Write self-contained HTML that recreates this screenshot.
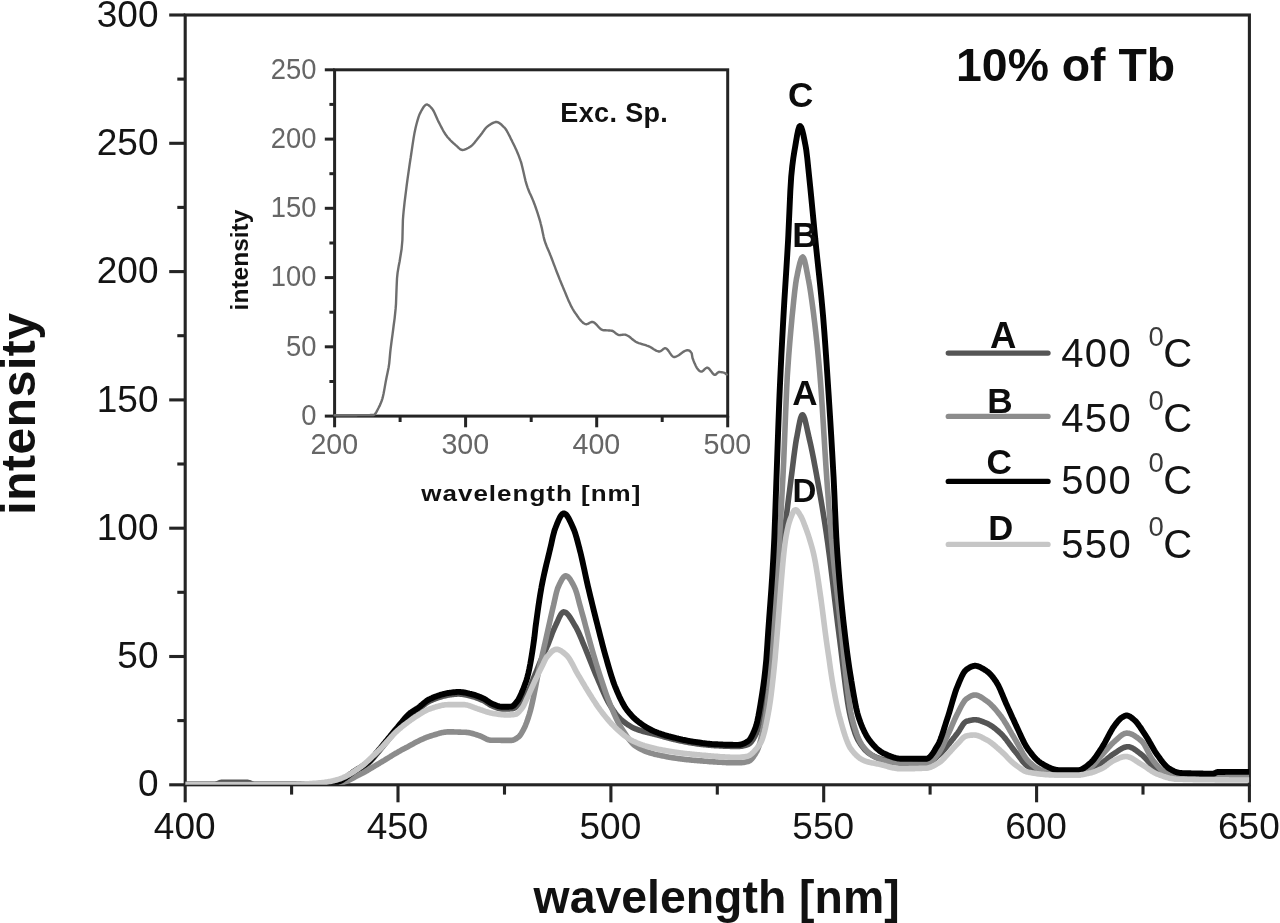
<!DOCTYPE html>
<html lang="en">
<head>
<meta charset="utf-8">
<title>Emission spectra - 10% of Tb</title>
<style>
html,body{margin:0;padding:0;background:#fff;}
body{width:1280px;height:923px;overflow:hidden;font-family:"Liberation Sans",Arial,sans-serif;}
svg{display:block;filter:blur(0.5px);}
</style>
</head>
<body>
<svg width="1280" height="923" viewBox="0 0 1280 923" font-family="'Liberation Sans', Arial, sans-serif">
<rect width="1280" height="923" fill="#ffffff"/>
<g id="inset">
<rect x="334.6" y="69.8" width="393.1" height="346.3" fill="none" stroke="#242424" stroke-width="3.0"/>
<line x1="324.8" y1="416.1" x2="334.6" y2="416.1" stroke="#242424" stroke-width="3.0" stroke-linecap="butt"/>
<line x1="329.4" y1="381.5" x2="334.6" y2="381.5" stroke="#242424" stroke-width="3.0" stroke-linecap="butt"/>
<line x1="324.8" y1="346.8" x2="334.6" y2="346.8" stroke="#242424" stroke-width="3.0" stroke-linecap="butt"/>
<line x1="329.4" y1="312.2" x2="334.6" y2="312.2" stroke="#242424" stroke-width="3.0" stroke-linecap="butt"/>
<line x1="324.8" y1="277.6" x2="334.6" y2="277.6" stroke="#242424" stroke-width="3.0" stroke-linecap="butt"/>
<line x1="329.4" y1="243.0" x2="334.6" y2="243.0" stroke="#242424" stroke-width="3.0" stroke-linecap="butt"/>
<line x1="324.8" y1="208.3" x2="334.6" y2="208.3" stroke="#242424" stroke-width="3.0" stroke-linecap="butt"/>
<line x1="329.4" y1="173.7" x2="334.6" y2="173.7" stroke="#242424" stroke-width="3.0" stroke-linecap="butt"/>
<line x1="324.8" y1="139.1" x2="334.6" y2="139.1" stroke="#242424" stroke-width="3.0" stroke-linecap="butt"/>
<line x1="329.4" y1="104.4" x2="334.6" y2="104.4" stroke="#242424" stroke-width="3.0" stroke-linecap="butt"/>
<line x1="324.8" y1="69.8" x2="334.6" y2="69.8" stroke="#242424" stroke-width="3.0" stroke-linecap="butt"/>
<line x1="334.6" y1="416.1" x2="334.6" y2="427.3" stroke="#242424" stroke-width="3.0" stroke-linecap="butt"/>
<line x1="400.1" y1="416.1" x2="400.1" y2="422.0" stroke="#242424" stroke-width="3.0" stroke-linecap="butt"/>
<line x1="465.6" y1="416.1" x2="465.6" y2="427.3" stroke="#242424" stroke-width="3.0" stroke-linecap="butt"/>
<line x1="531.2" y1="416.1" x2="531.2" y2="422.0" stroke="#242424" stroke-width="3.0" stroke-linecap="butt"/>
<line x1="596.7" y1="416.1" x2="596.7" y2="427.3" stroke="#242424" stroke-width="3.0" stroke-linecap="butt"/>
<line x1="662.2" y1="416.1" x2="662.2" y2="422.0" stroke="#242424" stroke-width="3.0" stroke-linecap="butt"/>
<line x1="727.7" y1="416.1" x2="727.7" y2="427.3" stroke="#242424" stroke-width="3.0" stroke-linecap="butt"/>
<text transform="translate(316.4,424.8) scale(0.97,1.075)" font-size="28.2" fill="#666666" text-anchor="end">0</text>
<text transform="translate(316.4,355.5) scale(0.97,1.075)" font-size="28.2" fill="#666666" text-anchor="end">50</text>
<text transform="translate(316.4,286.3) scale(0.97,1.075)" font-size="28.2" fill="#666666" text-anchor="end">100</text>
<text transform="translate(316.4,217.0) scale(0.97,1.075)" font-size="28.2" fill="#666666" text-anchor="end">150</text>
<text transform="translate(316.4,147.8) scale(0.97,1.075)" font-size="28.2" fill="#666666" text-anchor="end">200</text>
<text transform="translate(316.4,78.5) scale(0.97,1.075)" font-size="28.2" fill="#666666" text-anchor="end">250</text>
<text transform="translate(334.3,454.1) scale(1.0,1.03)" font-size="28.6" fill="#666666" text-anchor="middle">200</text>
<text transform="translate(465.3,454.1) scale(1.0,1.03)" font-size="28.6" fill="#666666" text-anchor="middle">300</text>
<text transform="translate(596.4,454.1) scale(1.0,1.03)" font-size="28.6" fill="#666666" text-anchor="middle">400</text>
<text transform="translate(727.4,454.1) scale(1.0,1.03)" font-size="28.6" fill="#666666" text-anchor="middle">500</text>
<text transform="translate(248,260) rotate(-90)" font-size="24.5" font-weight="bold" fill="#111" text-anchor="middle">intensity</text>
<text transform="translate(531.3,500.6) scale(1.15,1)" font-size="22.6" font-weight="bold" letter-spacing="0.87" fill="#111" text-anchor="middle">wavelength [nm]</text>
<text x="560.3" y="122" font-size="27" letter-spacing="0.36" font-weight="bold" fill="#111">Exc. Sp.</text>
<path d="M334.6,415.2 L335.6,415.2 L336.6,415.2 L337.6,415.2 L338.6,415.2 L339.6,415.2 L340.6,415.2 L341.6,415.2 L342.6,415.2 L343.6,415.2 L344.6,415.2 L345.6,415.2 L346.6,415.2 L347.6,415.2 L348.6,415.2 L349.6,415.2 L350.6,415.2 L351.6,415.2 L352.6,415.2 L353.6,415.2 L354.6,415.2 L355.6,415.2 L356.6,415.2 L357.6,415.1 L358.6,415.1 L359.6,415.1 L360.6,415.1 L361.6,415.1 L362.6,415.1 L363.6,415.1 L364.6,415.1 L365.6,415.1 L366.6,415.1 L367.6,415.1 L368.6,415.1 L369.6,415.1 L370.6,415.0 L371.6,415.0 L372.6,415.0 L373.6,415.0 L373.6,415.0 L374.6,414.5 L375.6,413.3 L376.6,411.6 L377.6,409.7 L378.5,408.0 L378.6,407.8 L379.6,405.9 L380.6,403.6 L381.6,401.0 L382.4,398.6 L382.6,397.9 L383.6,393.5 L384.6,388.1 L385.6,382.4 L386.3,378.7 L386.6,377.2 L387.6,372.6 L388.6,367.5 L389.2,363.6 L389.6,359.4 L390.2,352.6 L390.6,348.9 L391.6,341.2 L392.6,333.9 L393.1,330.0 L393.6,326.0 L394.6,318.6 L395.6,308.9 L396.0,303.8 L396.6,287.2 L397.0,278.5 L397.6,272.6 L398.6,266.6 L399.6,261.5 L400.0,259.0 L400.6,255.3 L401.6,249.0 L402.4,240.0 L402.6,231.9 L402.9,220.0 L403.2,216.0 L403.6,211.5 L404.6,202.2 L405.6,194.1 L405.8,192.6 L406.6,186.2 L407.6,178.7 L408.6,171.6 L409.6,164.7 L410.6,158.0 L410.7,157.5 L411.6,151.3 L412.6,144.6 L413.6,138.1 L414.6,132.4 L415.5,128.2 L415.6,127.7 L416.6,123.7 L417.6,120.1 L418.6,116.9 L419.6,114.2 L420.4,112.6 L420.6,112.2 L421.6,110.3 L422.6,108.6 L423.6,107.0 L424.6,105.8 L425.6,104.9 L426.6,104.5 L426.8,104.5 L427.6,104.7 L428.6,105.2 L429.6,106.0 L430.6,107.0 L431.6,108.2 L432.1,108.7 L432.6,109.4 L433.6,111.0 L434.6,113.0 L435.6,115.2 L436.6,117.5 L437.6,119.8 L438.6,121.9 L438.9,122.4 L439.6,123.8 L440.6,125.7 L441.6,127.6 L442.6,129.5 L443.6,131.3 L444.6,133.0 L445.6,134.5 L446.6,135.9 L446.7,136.0 L447.6,137.2 L448.6,138.3 L449.6,139.4 L450.6,140.5 L451.6,141.5 L452.6,142.4 L453.6,143.3 L454.6,144.2 L455.6,145.1 L456.5,145.8 L456.6,145.9 L457.6,146.8 L458.6,147.8 L459.6,148.7 L460.6,149.4 L461.6,149.9 L462.3,150.0 L462.6,150.0 L463.6,149.9 L464.6,149.6 L465.6,149.2 L466.6,148.8 L467.6,148.2 L468.6,147.7 L469.6,147.1 L470.1,146.8 L470.6,146.5 L471.6,145.7 L472.6,144.8 L473.6,143.7 L474.6,142.6 L475.6,141.3 L476.6,140.1 L477.6,138.8 L478.6,137.5 L479.6,136.3 L479.9,136.0 L480.6,135.1 L481.6,133.8 L482.6,132.3 L483.6,130.9 L484.6,129.6 L485.6,128.3 L486.6,127.2 L487.6,126.3 L487.7,126.3 L488.6,125.6 L489.6,124.9 L490.6,124.2 L491.6,123.6 L492.6,123.1 L493.6,122.6 L494.6,122.3 L495.6,122.0 L496.4,122.0 L496.6,122.0 L497.6,122.2 L498.6,122.6 L499.6,123.2 L500.6,124.0 L501.6,124.8 L502.6,125.8 L503.6,126.8 L504.2,127.3 L504.6,127.8 L505.6,129.0 L506.6,130.5 L507.6,132.3 L508.6,134.2 L509.6,136.1 L510.6,138.2 L511.6,140.2 L512.0,140.9 L512.6,142.2 L513.6,144.2 L514.6,146.3 L515.6,148.4 L516.6,150.6 L517.6,153.0 L518.6,155.4 L519.6,158.1 L520.6,160.9 L520.8,161.4 L521.6,164.2 L522.6,168.2 L523.6,172.6 L524.6,177.0 L525.6,181.1 L526.6,184.6 L526.7,184.8 L527.6,187.6 L528.6,190.2 L529.6,192.7 L530.7,195.0 L531.7,197.2 L532.7,199.6 L533.7,202.0 L534.5,204.3 L534.7,204.7 L535.7,207.5 L536.7,210.4 L537.7,213.4 L538.7,216.6 L539.7,219.9 L540.7,223.5 L540.8,224.0 L541.7,227.6 L542.7,232.5 L543.7,237.1 L544.4,240.0 L544.7,240.8 L545.7,243.8 L546.7,246.4 L547.7,248.7 L548.7,251.0 L549.7,253.4 L550.1,254.5 L550.7,255.9 L551.7,258.5 L552.7,261.1 L553.7,263.8 L554.7,266.4 L555.7,269.1 L556.7,271.7 L557.7,274.3 L558.7,276.8 L559.7,279.4 L560.7,281.8 L561.7,284.2 L561.9,284.8 L562.7,286.6 L563.7,289.0 L564.7,291.4 L565.7,293.8 L566.7,296.2 L567.7,298.6 L568.7,300.9 L569.7,303.1 L570.7,305.2 L571.7,307.2 L572.7,309.0 L573.7,310.7 L574.6,312.1 L574.7,312.2 L575.7,313.6 L576.7,315.0 L577.7,316.5 L578.7,317.9 L579.7,319.2 L580.7,320.4 L581.7,321.5 L582.7,322.5 L583.7,323.3 L584.7,323.8 L585.7,324.1 L586.3,324.2 L586.7,324.2 L587.7,323.9 L588.7,323.4 L589.7,322.8 L590.7,322.3 L591.7,321.9 L592.1,321.9 L592.7,322.0 L593.7,322.3 L594.7,323.0 L595.7,323.9 L596.7,324.9 L597.7,326.0 L598.7,327.1 L599.7,328.1 L600.7,329.0 L601.7,329.7 L602.7,330.1 L602.9,330.1 L603.7,330.2 L604.7,330.3 L605.7,330.3 L606.7,330.4 L607.7,330.4 L608.7,330.5 L609.7,330.5 L610.7,330.6 L611.6,330.7 L611.7,330.7 L612.7,331.0 L613.7,331.6 L614.7,332.4 L615.7,333.2 L616.7,333.9 L617.7,334.6 L618.7,335.0 L619.4,335.1 L619.7,335.1 L620.7,335.0 L621.7,334.9 L622.7,334.7 L623.7,334.6 L624.3,334.6 L624.7,334.6 L625.7,334.8 L626.7,335.2 L627.7,335.7 L628.7,336.3 L629.7,337.0 L630.7,337.8 L631.7,338.7 L632.7,339.5 L633.7,340.3 L634.7,341.0 L635.7,341.7 L636.7,342.3 L637.0,342.4 L637.7,342.7 L638.7,343.1 L639.7,343.4 L640.7,343.7 L641.7,344.1 L642.7,344.3 L643.7,344.6 L644.7,344.9 L645.7,345.2 L646.7,345.6 L647.7,345.9 L648.7,346.3 L648.7,346.3 L649.7,346.7 L650.7,347.3 L651.7,347.9 L652.7,348.5 L653.7,349.2 L654.7,349.8 L655.7,350.4 L656.7,350.9 L657.7,351.2 L658.7,351.5 L659.4,351.5 L659.7,351.5 L660.7,351.1 L661.7,350.4 L662.7,349.6 L663.7,348.8 L664.7,348.3 L665.3,348.2 L665.7,348.3 L666.7,348.8 L667.7,349.8 L668.7,351.2 L669.7,352.7 L670.7,354.1 L671.7,355.5 L672.7,356.5 L673.7,357.0 L674.0,357.0 L674.7,357.0 L675.7,356.7 L676.7,356.3 L677.7,355.8 L678.7,355.2 L679.7,354.5 L680.7,353.7 L681.7,353.0 L682.7,352.3 L683.7,351.6 L684.7,351.0 L685.7,350.6 L686.7,350.3 L687.7,350.2 L687.7,350.2 L688.7,350.4 L689.7,350.9 L690.7,351.9 L691.6,353.1 L691.7,353.3 L692.5,358.0 L692.7,358.5 L693.7,361.2 L694.7,363.6 L695.7,365.7 L696.7,367.6 L697.7,369.1 L698.7,370.3 L699.7,371.1 L700.7,371.5 L701.3,371.6 L701.7,371.6 L702.7,371.0 L703.7,370.2 L704.7,369.2 L705.7,368.3 L706.7,367.8 L707.2,367.7 L707.7,367.8 L708.7,368.4 L709.7,369.4 L710.7,370.7 L711.7,372.1 L712.7,373.4 L713.7,374.4 L714.7,374.9 L715.0,374.9 L715.7,374.7 L716.7,373.7 L717.7,372.7 L718.7,372.0 L718.9,372.0 L719.7,372.0 L720.7,372.1 L721.7,372.2 L722.7,372.4 L723.7,372.6 L723.7,372.6 L724.7,373.0 L725.7,373.7 L726.7,374.5" fill="none" stroke="#6e6e6e" stroke-width="2.4" stroke-linejoin="round" stroke-linecap="round"/>
</g>
<g id="main-axes">
<rect x="185.2" y="15.0" width="1064.2" height="769.8" fill="none" stroke="#242424" stroke-width="3.1"/>
<line x1="169.2" y1="784.8" x2="185.2" y2="784.8" stroke="#242424" stroke-width="3.1" stroke-linecap="butt"/>
<line x1="177.3" y1="720.6" x2="185.2" y2="720.6" stroke="#242424" stroke-width="3.1" stroke-linecap="butt"/>
<line x1="169.2" y1="656.5" x2="185.2" y2="656.5" stroke="#242424" stroke-width="3.1" stroke-linecap="butt"/>
<line x1="177.3" y1="592.3" x2="185.2" y2="592.3" stroke="#242424" stroke-width="3.1" stroke-linecap="butt"/>
<line x1="169.2" y1="528.2" x2="185.2" y2="528.2" stroke="#242424" stroke-width="3.1" stroke-linecap="butt"/>
<line x1="177.3" y1="464.0" x2="185.2" y2="464.0" stroke="#242424" stroke-width="3.1" stroke-linecap="butt"/>
<line x1="169.2" y1="399.9" x2="185.2" y2="399.9" stroke="#242424" stroke-width="3.1" stroke-linecap="butt"/>
<line x1="177.3" y1="335.7" x2="185.2" y2="335.7" stroke="#242424" stroke-width="3.1" stroke-linecap="butt"/>
<line x1="169.2" y1="271.6" x2="185.2" y2="271.6" stroke="#242424" stroke-width="3.1" stroke-linecap="butt"/>
<line x1="177.3" y1="207.4" x2="185.2" y2="207.4" stroke="#242424" stroke-width="3.1" stroke-linecap="butt"/>
<line x1="169.2" y1="143.3" x2="185.2" y2="143.3" stroke="#242424" stroke-width="3.1" stroke-linecap="butt"/>
<line x1="177.3" y1="79.1" x2="185.2" y2="79.1" stroke="#242424" stroke-width="3.1" stroke-linecap="butt"/>
<line x1="169.2" y1="15.0" x2="185.2" y2="15.0" stroke="#242424" stroke-width="3.1" stroke-linecap="butt"/>
<line x1="185.2" y1="784.8" x2="185.2" y2="802.3" stroke="#242424" stroke-width="3.1" stroke-linecap="butt"/>
<line x1="291.6" y1="784.8" x2="291.6" y2="794.6" stroke="#242424" stroke-width="3.1" stroke-linecap="butt"/>
<line x1="398.0" y1="784.8" x2="398.0" y2="802.3" stroke="#242424" stroke-width="3.1" stroke-linecap="butt"/>
<line x1="504.5" y1="784.8" x2="504.5" y2="794.6" stroke="#242424" stroke-width="3.1" stroke-linecap="butt"/>
<line x1="610.9" y1="784.8" x2="610.9" y2="802.3" stroke="#242424" stroke-width="3.1" stroke-linecap="butt"/>
<line x1="717.3" y1="784.8" x2="717.3" y2="794.6" stroke="#242424" stroke-width="3.1" stroke-linecap="butt"/>
<line x1="823.7" y1="784.8" x2="823.7" y2="802.3" stroke="#242424" stroke-width="3.1" stroke-linecap="butt"/>
<line x1="930.1" y1="784.8" x2="930.1" y2="794.6" stroke="#242424" stroke-width="3.1" stroke-linecap="butt"/>
<line x1="1036.6" y1="784.8" x2="1036.6" y2="802.3" stroke="#242424" stroke-width="3.1" stroke-linecap="butt"/>
<line x1="1143.0" y1="784.8" x2="1143.0" y2="794.6" stroke="#242424" stroke-width="3.1" stroke-linecap="butt"/>
<line x1="1249.4" y1="784.8" x2="1249.4" y2="802.3" stroke="#242424" stroke-width="3.1" stroke-linecap="butt"/>
<text x="158.5" y="796.4" font-size="37" fill="#141414" text-anchor="end">0</text>
<text x="158.5" y="668.1" font-size="37" fill="#141414" text-anchor="end">50</text>
<text x="158.5" y="539.8" font-size="37" fill="#141414" text-anchor="end">100</text>
<text x="158.5" y="411.5" font-size="37" fill="#141414" text-anchor="end">150</text>
<text x="158.5" y="283.2" font-size="37" fill="#141414" text-anchor="end">200</text>
<text x="158.5" y="154.9" font-size="37" fill="#141414" text-anchor="end">250</text>
<text x="158.5" y="26.6" font-size="37" fill="#141414" text-anchor="end">300</text>
<text x="184.7" y="838.8" font-size="37" fill="#141414" text-anchor="middle">400</text>
<text x="397.5" y="838.8" font-size="37" fill="#141414" text-anchor="middle">450</text>
<text x="610.4" y="838.8" font-size="37" fill="#141414" text-anchor="middle">500</text>
<text x="823.2" y="838.8" font-size="37" fill="#141414" text-anchor="middle">550</text>
<text x="1036.1" y="838.8" font-size="37" fill="#141414" text-anchor="middle">600</text>
<text x="1248.9" y="838.8" font-size="37" fill="#141414" text-anchor="middle">650</text>
<text transform="translate(35.2,413.6) rotate(-90)" font-size="48" letter-spacing="0.55" font-weight="bold" fill="#111" text-anchor="middle">intensity</text>
<text x="716.6" y="912.8" font-size="46.4" font-weight="bold" fill="#111" text-anchor="middle">wavelength [nm]</text>
</g>
<defs><clipPath id="frameclip"><rect x="185.2" y="15.0" width="1064.2" height="769.8"/></clipPath></defs>
<g id="curves" fill="none" stroke-linejoin="round" stroke-linecap="butt" clip-path="url(#frameclip)">
<path d="M185.2,784.6 L186.2,784.6 L187.2,784.6 L188.2,784.6 L189.2,784.6 L190.2,784.6 L191.2,784.6 L192.2,784.6 L193.2,784.6 L194.2,784.6 L195.2,784.6 L196.2,784.6 L197.2,784.6 L198.2,784.6 L199.2,784.6 L200.2,784.6 L201.2,784.6 L202.2,784.6 L203.2,784.6 L204.2,784.6 L205.2,784.6 L206.2,784.6 L207.2,784.6 L208.2,784.6 L209.2,784.6 L210.2,784.6 L211.2,784.6 L212.2,784.6 L213.2,784.6 L214.0,784.6 L214.2,784.6 L215.2,784.5 L216.2,784.2 L217.2,783.8 L218.2,783.4 L219.2,782.9 L220.2,782.6 L221.2,782.4 L222.0,782.3 L222.2,782.3 L223.2,782.3 L224.2,782.3 L225.2,782.3 L226.2,782.3 L227.2,782.3 L228.2,782.3 L229.2,782.3 L230.2,782.3 L231.2,782.3 L232.2,782.3 L233.2,782.3 L234.2,782.3 L235.2,782.3 L236.2,782.3 L237.2,782.3 L238.2,782.3 L239.2,782.3 L240.2,782.3 L241.2,782.3 L242.2,782.3 L243.2,782.3 L244.2,782.3 L245.2,782.3 L246.2,782.3 L247.0,782.3 L247.2,782.3 L248.2,782.5 L249.2,782.7 L250.2,783.1 L251.2,783.6 L252.3,784.0 L253.3,784.3 L254.3,784.5 L255.0,784.6 L255.3,784.6 L256.3,784.6 L257.3,784.6 L258.3,784.6 L259.3,784.6 L260.3,784.6 L261.3,784.6 L262.3,784.6 L263.3,784.6 L264.3,784.6 L265.3,784.6 L266.3,784.6 L267.3,784.6 L268.3,784.6 L269.3,784.6 L270.3,784.6 L271.3,784.6 L272.3,784.6 L273.3,784.6 L274.3,784.6 L275.3,784.6 L276.3,784.6 L277.3,784.6 L278.3,784.6 L279.3,784.6 L280.3,784.6 L281.3,784.6 L282.3,784.6 L283.3,784.6 L284.3,784.6 L285.3,784.6 L286.3,784.6 L287.3,784.6 L288.3,784.6 L289.3,784.6 L290.3,784.6 L291.3,784.6 L292.3,784.6 L293.3,784.6 L294.3,784.6 L295.3,784.6 L296.3,784.6 L297.3,784.6 L298.3,784.6 L299.3,784.6 L300.3,784.6 L301.3,784.6 L302.3,784.6 L303.3,784.6 L304.3,784.6 L305.3,784.6 L306.3,784.6 L307.3,784.6 L308.3,784.6 L309.3,784.6 L310.0,784.6 L310.3,784.6 L311.3,784.6 L312.3,784.6 L313.3,784.6 L314.3,784.6 L315.3,784.5 L316.3,784.5 L317.3,784.5 L318.3,784.4 L319.3,784.4 L320.3,784.3 L321.3,784.3 L322.3,784.2 L323.3,784.1 L324.3,784.1 L325.3,784.0 L326.3,783.9 L327.3,783.8 L328.3,783.8 L329.3,783.7 L330.3,783.6 L331.3,783.5 L332.3,783.3 L333.3,783.2 L334.3,783.1 L335.3,783.0 L336.3,782.9 L337.3,782.7 L338.3,782.6 L339.0,782.5 L339.3,782.4 L340.3,782.2 L341.3,781.9 L342.3,781.4 L343.3,780.9 L344.3,780.2 L345.3,779.6 L346.3,778.8 L347.3,778.1 L348.3,777.3 L349.3,776.5 L350.3,775.7 L351.3,774.9 L352.3,774.2 L353.3,773.5 L354.0,773.0 L354.3,772.8 L355.3,772.1 L356.3,771.5 L357.3,770.9 L358.3,770.3 L359.3,769.7 L360.3,769.0 L361.3,768.4 L362.3,767.7 L363.3,767.1 L364.3,766.4 L365.3,765.7 L366.3,764.9 L367.3,764.1 L368.3,763.3 L368.7,763.0 L369.3,762.4 L370.3,761.5 L371.3,760.4 L372.3,759.3 L373.3,758.1 L374.3,756.9 L375.3,755.7 L376.3,754.5 L377.3,753.3 L378.0,752.5 L378.3,752.1 L379.3,750.9 L380.3,749.7 L381.3,748.5 L382.3,747.3 L383.3,746.0 L384.3,744.8 L385.4,743.5 L386.4,742.3 L387.4,741.0 L388.4,739.8 L389.4,738.5 L390.4,737.3 L391.4,736.1 L392.4,734.9 L393.4,733.7 L394.4,732.5 L395.4,731.4 L396.4,730.3 L397.4,729.2 L398.0,728.5 L398.4,728.1 L399.4,727.1 L400.4,726.1 L401.4,725.0 L402.4,724.0 L403.4,723.1 L404.4,722.1 L405.4,721.1 L406.4,720.2 L407.4,719.2 L408.4,718.3 L409.4,717.4 L410.4,716.5 L411.4,715.6 L412.4,714.7 L413.4,713.8 L414.4,712.9 L415.4,712.1 L416.4,711.2 L417.4,710.4 L417.5,710.3 L418.4,709.6 L419.4,708.7 L420.4,707.8 L421.4,707.0 L422.4,706.1 L423.4,705.3 L424.4,704.5 L425.4,703.7 L426.4,703.0 L427.4,702.4 L428.4,701.8 L429.4,701.3 L429.5,701.2 L430.4,700.8 L431.4,700.3 L432.4,699.9 L433.4,699.5 L434.4,699.1 L435.4,698.7 L436.4,698.3 L437.4,698.0 L438.4,697.6 L439.4,697.3 L440.4,697.0 L441.4,696.7 L442.4,696.4 L443.4,696.1 L444.4,695.9 L445.4,695.7 L446.4,695.5 L447.4,695.3 L448.4,695.1 L449.0,695.0 L449.4,694.9 L450.4,694.8 L451.4,694.6 L452.4,694.5 L453.4,694.4 L454.4,694.3 L455.4,694.2 L456.4,694.1 L457.4,694.0 L458.4,694.0 L458.7,694.0 L459.4,694.0 L460.4,694.1 L461.4,694.2 L462.4,694.3 L463.4,694.5 L464.4,694.6 L465.4,694.8 L466.4,695.1 L467.4,695.3 L468.4,695.5 L468.5,695.5 L469.4,695.7 L470.4,695.9 L471.4,696.2 L472.4,696.5 L473.4,696.8 L474.4,697.1 L475.4,697.4 L476.4,697.8 L477.4,698.2 L478.4,698.5 L479.4,698.9 L480.4,699.4 L481.4,699.8 L482.4,700.2 L483.1,700.5 L483.4,700.6 L484.4,701.2 L485.4,701.8 L486.4,702.4 L487.4,703.1 L488.4,703.7 L489.4,704.4 L490.4,705.0 L491.4,705.6 L492.4,706.1 L492.8,706.2 L493.4,706.4 L494.4,706.8 L495.4,707.2 L496.4,707.6 L497.4,708.0 L498.4,708.3 L499.4,708.6 L500.4,708.8 L501.4,708.9 L502.4,709.0 L502.6,709.0 L503.4,709.0 L504.4,709.0 L505.4,709.0 L506.4,709.0 L507.4,708.9 L508.4,708.9 L509.4,708.9 L510.4,708.8 L511.4,708.8 L511.4,708.8 L512.4,708.7 L513.4,708.4 L514.4,707.9 L515.4,707.4 L516.4,706.7 L517.4,706.0 L518.5,705.2 L519.5,704.4 L520.0,704.0 L520.5,703.6 L521.5,702.6 L522.5,701.3 L523.5,699.9 L524.5,698.4 L525.5,696.7 L526.5,695.0 L527.0,694.0 L527.5,693.1 L528.5,691.0 L529.5,688.7 L530.5,686.2 L531.5,683.5 L532.5,680.9 L533.5,678.3 L534.0,677.0 L534.5,675.9 L535.5,673.4 L536.5,671.0 L537.5,668.5 L538.5,666.0 L539.5,663.6 L540.5,661.2 L541.0,660.0 L541.5,658.9 L542.5,656.7 L543.5,654.5 L544.5,652.3 L545.5,650.1 L546.5,647.9 L547.3,646.0 L547.5,645.6 L548.5,643.1 L549.5,640.5 L550.5,637.9 L551.5,635.2 L552.5,632.6 L553.5,630.1 L554.5,627.8 L555.1,626.5 L555.5,625.7 L556.5,623.5 L557.5,621.3 L558.5,619.1 L559.5,616.9 L560.5,615.1 L561.5,613.5 L562.5,612.5 L563.5,611.9 L563.8,611.9 L564.5,612.0 L565.5,612.4 L566.5,613.1 L567.5,614.0 L568.5,615.2 L569.5,616.6 L570.5,618.1 L571.5,619.7 L572.5,621.4 L573.5,623.1 L574.5,624.8 L575.5,626.5 L575.5,626.5 L576.5,628.2 L577.5,630.2 L578.5,632.3 L579.5,634.5 L580.5,636.8 L581.5,639.2 L582.5,641.7 L583.5,644.1 L584.3,646.0 L584.5,646.5 L585.5,648.9 L586.5,651.4 L587.5,653.9 L588.5,656.4 L589.5,659.0 L590.5,661.5 L591.5,664.0 L592.1,665.5 L592.5,666.5 L593.5,669.0 L594.5,671.4 L595.5,673.8 L596.5,676.2 L597.5,678.5 L597.5,678.5 L598.5,680.8 L599.5,683.2 L600.5,685.5 L601.5,687.9 L602.5,690.2 L603.5,692.5 L604.5,694.7 L605.5,696.8 L606.5,698.9 L607.5,700.8 L608.5,702.6 L609.2,703.8 L609.5,704.3 L610.5,705.9 L611.5,707.5 L612.5,709.1 L613.5,710.6 L614.5,712.0 L615.5,713.4 L616.5,714.7 L617.5,715.9 L618.5,717.1 L619.5,718.1 L620.5,719.1 L620.9,719.4 L621.5,719.9 L622.5,720.8 L623.5,721.6 L624.5,722.3 L625.5,723.1 L626.5,723.8 L627.5,724.5 L628.5,725.1 L629.5,725.7 L630.5,726.3 L631.5,726.9 L632.5,727.4 L633.5,727.9 L634.5,728.4 L635.5,728.8 L636.5,729.2 L636.5,729.2 L637.5,729.6 L638.5,730.0 L639.5,730.3 L640.5,730.6 L641.5,730.9 L642.5,731.2 L643.5,731.5 L644.5,731.8 L645.5,732.0 L646.5,732.3 L647.5,732.5 L648.5,732.8 L649.5,733.0 L650.5,733.2 L651.6,733.5 L652.6,733.7 L653.6,734.0 L654.6,734.2 L655.6,734.5 L656.0,734.6 L656.6,734.8 L657.6,735.0 L658.6,735.3 L659.6,735.6 L660.6,735.9 L661.6,736.1 L662.6,736.4 L663.6,736.7 L664.6,737.0 L665.6,737.3 L666.6,737.5 L667.6,737.8 L668.6,738.1 L669.6,738.4 L670.6,738.6 L671.6,738.9 L672.6,739.1 L673.6,739.4 L674.6,739.6 L675.5,739.8 L675.6,739.8 L676.6,740.0 L677.6,740.3 L678.6,740.5 L679.6,740.7 L680.6,740.9 L681.6,741.1 L682.6,741.3 L683.6,741.5 L684.6,741.7 L685.6,741.9 L686.6,742.1 L687.6,742.3 L688.6,742.5 L689.6,742.7 L690.6,742.8 L691.6,743.0 L692.6,743.1 L693.6,743.3 L694.6,743.4 L695.0,743.5 L695.6,743.6 L696.6,743.7 L697.6,743.9 L698.6,744.0 L699.6,744.1 L700.6,744.2 L701.6,744.4 L702.6,744.5 L703.6,744.6 L704.6,744.7 L705.6,744.8 L706.6,744.9 L707.6,745.0 L708.6,745.1 L709.6,745.2 L710.6,745.3 L711.6,745.4 L712.6,745.5 L713.6,745.5 L714.5,745.6 L714.6,745.6 L715.6,745.7 L716.6,745.7 L717.6,745.8 L718.6,745.8 L719.6,745.9 L720.6,745.9 L721.6,746.0 L722.6,746.0 L723.6,746.1 L724.6,746.1 L725.6,746.2 L726.6,746.2 L727.6,746.3 L728.6,746.3 L729.6,746.3 L730.6,746.4 L731.6,746.4 L732.6,746.4 L733.6,746.5 L734.6,746.5 L735.6,746.5 L736.6,746.5 L737.6,746.5 L738.0,746.5 L738.6,746.5 L739.6,746.4 L740.6,746.3 L741.6,746.2 L742.6,746.0 L743.6,745.8 L744.6,745.6 L745.6,745.3 L746.6,745.0 L747.6,744.6 L748.0,744.5 L748.6,744.2 L749.6,743.6 L750.6,742.6 L751.6,741.4 L752.6,740.1 L753.6,738.5 L754.6,736.7 L755.6,734.8 L756.5,733.0 L756.6,732.7 L757.6,730.0 L758.6,726.6 L759.6,722.4 L760.6,717.7 L761.6,712.6 L762.5,708.0 L762.6,707.3 L763.6,701.1 L764.6,694.1 L765.6,686.2 L766.6,677.7 L767.5,670.0 L767.6,668.7 L768.6,658.0 L769.6,646.5 L770.5,637.5 L770.6,636.2 L771.6,627.2 L772.6,618.7 L773.6,610.6 L774.6,602.7 L775.6,595.2 L776.6,587.9 L777.6,580.7 L778.6,573.6 L779.6,566.5 L780.6,559.4 L781.6,552.2 L782.6,544.8 L783.7,537.2 L783.8,536.0 L784.7,529.3 L785.7,521.4 L786.7,513.4 L787.7,505.4 L788.7,497.4 L789.7,489.5 L790.7,481.7 L791.2,477.5 L791.7,474.0 L792.7,466.0 L793.7,457.9 L794.7,450.3 L795.7,443.4 L796.5,438.5 L796.7,437.7 L797.7,432.2 L798.7,426.7 L799.7,421.8 L800.7,417.8 L801.7,415.3 L802.4,414.7 L802.7,414.8 L803.7,416.1 L804.7,418.8 L805.7,422.6 L806.7,427.0 L807.7,431.6 L808.7,436.2 L809.2,438.5 L809.7,440.5 L810.7,444.9 L811.7,449.6 L812.7,454.5 L813.7,459.6 L814.7,464.9 L815.7,470.3 L816.7,475.7 L817.0,477.5 L817.7,481.2 L818.7,486.8 L819.7,492.4 L820.7,498.2 L821.7,504.1 L822.7,510.1 L823.7,516.3 L824.7,522.6 L825.7,529.1 L826.7,535.9 L826.7,536.0 L827.7,542.9 L828.7,550.3 L829.7,558.0 L830.7,566.0 L831.7,574.2 L832.7,582.5 L833.7,590.9 L834.7,599.3 L835.7,607.7 L836.7,615.9 L837.7,624.1 L838.7,632.0 L839.4,637.5 L839.7,639.7 L840.7,647.7 L841.7,655.8 L842.7,664.2 L843.7,672.4 L844.7,680.5 L845.7,688.4 L846.7,695.7 L847.7,702.5 L848.7,708.5 L849.7,713.7 L850.1,715.5 L850.7,718.0 L851.7,722.0 L852.7,725.7 L853.7,729.1 L854.7,732.2 L855.7,735.0 L856.7,737.4 L857.7,739.5 L858.0,740.0 L858.7,741.2 L859.7,742.8 L860.7,744.4 L861.7,745.8 L862.7,747.1 L863.7,748.4 L864.7,749.5 L865.7,750.6 L866.7,751.5 L867.7,752.4 L868.7,753.1 L869.7,753.8 L870.0,754.0 L870.7,754.4 L871.7,755.0 L872.7,755.5 L873.7,756.1 L874.7,756.5 L875.7,757.0 L876.7,757.4 L877.7,757.8 L878.7,758.2 L879.7,758.6 L880.7,758.9 L881.7,759.2 L882.7,759.5 L883.7,759.7 L884.7,759.9 L885.0,760.0 L885.7,760.1 L886.7,760.3 L887.7,760.5 L888.7,760.7 L889.7,760.9 L890.7,761.0 L891.7,761.2 L892.7,761.3 L893.7,761.5 L894.7,761.6 L895.7,761.8 L896.7,761.9 L897.7,762.0 L898.7,762.1 L899.7,762.2 L900.7,762.3 L901.7,762.3 L902.7,762.4 L903.7,762.5 L904.0,762.5 L904.7,762.5 L905.7,762.6 L906.7,762.7 L907.7,762.7 L908.7,762.8 L909.7,762.8 L910.7,762.9 L911.7,762.9 L912.7,763.0 L913.7,763.0 L914.7,763.0 L915.7,763.1 L916.8,763.1 L917.8,763.2 L918.8,763.2 L919.8,763.2 L920.8,763.2 L921.8,763.3 L922.8,763.3 L923.8,763.3 L924.8,763.3 L925.8,763.3 L926.0,763.3 L926.8,763.3 L927.8,763.1 L928.8,762.7 L929.8,762.3 L930.8,761.7 L931.8,761.1 L932.8,760.3 L933.8,759.5 L934.8,758.7 L935.8,757.8 L936.8,756.9 L937.8,756.0 L938.8,755.1 L939.8,754.2 L940.0,754.0 L940.8,753.3 L941.8,752.3 L942.8,751.2 L943.8,750.1 L944.8,748.9 L945.8,747.7 L946.8,746.5 L947.8,745.3 L948.0,745.0 L948.8,744.1 L949.8,742.9 L950.8,741.6 L951.8,740.4 L952.8,739.1 L953.8,737.9 L954.8,736.6 L955.8,735.3 L956.8,734.0 L957.5,733.1 L957.8,732.7 L958.8,731.3 L959.8,729.7 L960.8,728.0 L961.8,726.4 L962.8,724.8 L963.8,723.5 L964.8,722.4 L965.8,721.6 L966.3,721.4 L966.8,721.2 L967.8,720.9 L968.8,720.7 L969.8,720.4 L970.8,720.2 L971.8,720.1 L972.8,719.9 L973.8,719.8 L974.8,719.8 L975.0,719.8 L975.8,719.8 L976.8,719.9 L977.8,720.1 L978.8,720.3 L979.8,720.6 L980.8,720.9 L981.8,721.3 L982.8,721.7 L983.8,722.1 L984.8,722.5 L985.8,722.9 L986.7,723.3 L986.8,723.3 L987.8,723.8 L988.8,724.3 L989.8,724.9 L990.8,725.5 L991.8,726.1 L992.8,726.8 L993.8,727.6 L994.8,728.3 L995.8,729.1 L996.8,730.0 L997.8,730.8 L998.8,731.7 L999.8,732.6 L1000.4,733.1 L1000.8,733.5 L1001.8,734.5 L1002.8,735.5 L1003.8,736.7 L1004.8,737.9 L1005.8,739.1 L1006.8,740.4 L1007.8,741.8 L1008.8,743.1 L1009.8,744.5 L1010.8,745.8 L1011.8,747.2 L1012.8,748.5 L1013.8,749.9 L1014.8,751.1 L1015.8,752.4 L1016.0,752.6 L1016.8,753.6 L1017.8,754.9 L1018.8,756.2 L1019.8,757.6 L1020.8,758.9 L1021.8,760.2 L1022.8,761.5 L1023.8,762.6 L1024.8,763.7 L1025.8,764.7 L1026.8,765.6 L1027.7,766.2 L1027.8,766.3 L1028.8,766.9 L1029.8,767.5 L1030.8,768.1 L1031.8,768.6 L1032.8,769.1 L1033.8,769.6 L1034.8,770.0 L1035.8,770.4 L1036.8,770.8 L1037.8,771.1 L1038.8,771.4 L1039.8,771.7 L1040.8,772.0 L1041.0,772.0 L1041.8,772.2 L1042.8,772.4 L1043.8,772.6 L1044.8,772.8 L1045.8,773.0 L1046.8,773.2 L1047.8,773.4 L1048.8,773.6 L1049.9,773.8 L1050.9,773.9 L1051.9,774.1 L1052.9,774.2 L1053.9,774.3 L1054.9,774.4 L1055.9,774.4 L1056.9,774.5 L1057.9,774.5 L1058.0,774.5 L1058.9,774.5 L1059.9,774.5 L1060.9,774.5 L1061.9,774.5 L1062.9,774.5 L1063.9,774.5 L1064.9,774.5 L1065.9,774.5 L1066.9,774.5 L1067.9,774.5 L1068.9,774.5 L1069.9,774.5 L1070.9,774.5 L1071.9,774.5 L1072.9,774.5 L1073.9,774.5 L1074.9,774.5 L1075.9,774.5 L1076.9,774.5 L1077.9,774.5 L1078.0,774.5 L1078.9,774.5 L1079.9,774.4 L1080.9,774.2 L1081.9,774.0 L1082.9,773.7 L1083.9,773.4 L1084.9,773.1 L1085.9,772.7 L1086.9,772.3 L1087.9,771.9 L1088.9,771.5 L1089.9,771.0 L1090.0,771.0 L1090.9,770.6 L1091.9,770.1 L1092.9,769.5 L1093.9,768.9 L1094.9,768.3 L1095.9,767.6 L1096.9,766.8 L1097.9,766.1 L1098.9,765.3 L1099.9,764.6 L1100.9,763.8 L1101.9,763.1 L1102.0,763.0 L1102.9,762.3 L1103.9,761.6 L1104.9,760.8 L1105.9,759.9 L1106.9,759.1 L1107.9,758.2 L1108.9,757.4 L1109.9,756.6 L1110.9,755.8 L1111.9,755.0 L1112.9,754.3 L1113.9,753.7 L1114.0,753.6 L1114.9,753.0 L1115.9,752.4 L1116.9,751.7 L1117.9,751.0 L1118.9,750.3 L1119.9,749.7 L1120.9,749.1 L1121.9,748.5 L1122.9,748.0 L1123.9,747.5 L1124.9,747.2 L1125.9,746.9 L1126.9,746.7 L1127.7,746.7 L1127.9,746.7 L1128.9,746.8 L1129.9,747.0 L1130.9,747.4 L1131.9,747.8 L1132.9,748.3 L1133.9,748.9 L1134.9,749.6 L1135.9,750.3 L1136.9,751.1 L1137.9,751.8 L1138.9,752.6 L1139.9,753.4 L1140.9,754.1 L1141.4,754.5 L1141.9,754.9 L1142.9,755.7 L1143.9,756.7 L1144.9,757.7 L1145.9,758.8 L1146.9,759.9 L1147.9,761.0 L1148.9,762.1 L1149.9,763.2 L1150.9,764.2 L1151.9,765.2 L1152.9,766.1 L1153.1,766.2 L1153.9,766.9 L1154.9,767.7 L1155.9,768.5 L1156.9,769.2 L1157.9,770.0 L1158.9,770.7 L1159.9,771.4 L1160.9,772.1 L1161.9,772.6 L1162.9,773.2 L1163.9,773.6 L1164.9,774.0 L1165.0,774.0 L1165.9,774.3 L1166.9,774.6 L1167.9,774.9 L1168.9,775.2 L1169.9,775.4 L1170.9,775.7 L1171.9,775.9 L1172.9,776.1 L1173.9,776.3 L1174.9,776.5 L1175.9,776.7 L1176.9,776.8 L1177.9,776.9 L1178.9,777.0 L1179.9,777.0 L1180.0,777.0 L1180.9,777.0 L1181.9,777.0 L1183.0,777.0 L1184.0,777.1 L1185.0,777.1 L1186.0,777.1 L1187.0,777.1 L1188.0,777.1 L1189.0,777.1 L1190.0,777.2 L1191.0,777.2 L1192.0,777.2 L1193.0,777.2 L1194.0,777.2 L1195.0,777.2 L1196.0,777.2 L1197.0,777.2 L1198.0,777.3 L1199.0,777.3 L1200.0,777.3 L1201.0,777.3 L1202.0,777.3 L1203.0,777.3 L1204.0,777.3 L1205.0,777.3 L1206.0,777.3 L1207.0,777.3 L1208.0,777.4 L1209.0,777.4 L1210.0,777.4 L1211.0,777.4 L1212.0,777.4 L1213.0,777.4 L1214.0,777.4 L1215.0,777.4 L1216.0,777.4 L1217.0,777.4 L1218.0,777.4 L1219.0,777.4 L1220.0,777.4 L1221.0,777.4 L1222.0,777.4 L1223.0,777.4 L1224.0,777.5 L1225.0,777.5 L1226.0,777.5 L1227.0,777.5 L1228.0,777.5 L1229.0,777.5 L1230.0,777.5 L1231.0,777.5 L1232.0,777.5 L1233.0,777.5 L1234.0,777.5 L1235.0,777.5 L1236.0,777.5 L1237.0,777.5 L1238.0,777.5 L1239.0,777.5 L1240.0,777.5 L1241.0,777.5 L1242.0,777.5 L1243.0,777.5 L1244.0,777.5 L1245.0,777.5 L1246.0,777.5 L1247.0,777.5 L1248.0,777.5 L1249.0,777.5" stroke="#555555" stroke-width="5.6"/>
<path d="M185.2,784.6 L186.2,784.6 L187.2,784.6 L188.2,784.6 L189.2,784.6 L190.2,784.6 L191.2,784.6 L192.2,784.6 L193.2,784.6 L194.2,784.6 L195.2,784.6 L196.2,784.6 L197.2,784.6 L198.2,784.6 L199.2,784.6 L200.2,784.6 L201.2,784.6 L202.2,784.6 L203.2,784.6 L204.2,784.6 L205.2,784.6 L206.2,784.6 L207.2,784.6 L208.2,784.6 L209.2,784.6 L210.2,784.6 L211.2,784.6 L212.2,784.6 L213.2,784.6 L214.2,784.6 L215.2,784.6 L216.2,784.6 L217.2,784.6 L218.2,784.6 L219.2,784.6 L220.2,784.6 L221.2,784.6 L222.2,784.6 L223.2,784.6 L224.2,784.6 L225.2,784.6 L226.2,784.6 L227.2,784.6 L228.2,784.6 L229.2,784.6 L230.2,784.6 L231.2,784.6 L232.2,784.6 L233.2,784.6 L234.2,784.6 L235.2,784.6 L236.2,784.6 L237.2,784.6 L238.2,784.6 L239.2,784.6 L240.2,784.6 L241.2,784.6 L242.2,784.6 L243.2,784.6 L244.2,784.6 L245.2,784.6 L246.2,784.6 L247.2,784.6 L248.2,784.6 L249.2,784.6 L250.2,784.6 L251.2,784.6 L252.3,784.6 L253.3,784.6 L254.3,784.6 L255.3,784.6 L256.3,784.6 L257.3,784.6 L258.3,784.6 L259.3,784.6 L260.3,784.6 L261.3,784.6 L262.3,784.6 L263.3,784.6 L264.3,784.6 L265.3,784.6 L266.3,784.6 L267.3,784.6 L268.3,784.6 L269.3,784.6 L270.3,784.6 L271.3,784.6 L272.3,784.6 L273.3,784.6 L274.3,784.6 L275.3,784.6 L276.3,784.6 L277.3,784.6 L278.3,784.6 L279.3,784.6 L280.3,784.6 L281.3,784.6 L282.3,784.6 L283.3,784.6 L284.3,784.6 L285.3,784.6 L286.3,784.6 L287.3,784.6 L288.3,784.6 L289.3,784.6 L290.3,784.6 L291.3,784.6 L292.3,784.6 L293.3,784.6 L294.3,784.6 L295.3,784.6 L296.3,784.6 L297.3,784.6 L298.3,784.6 L299.3,784.6 L300.3,784.6 L301.3,784.6 L302.3,784.6 L303.3,784.6 L304.3,784.6 L305.3,784.6 L306.3,784.6 L307.3,784.6 L308.3,784.6 L309.3,784.6 L310.0,784.6 L310.3,784.6 L311.3,784.6 L312.3,784.6 L313.3,784.6 L314.3,784.6 L315.3,784.5 L316.3,784.5 L317.3,784.5 L318.3,784.5 L319.3,784.4 L320.3,784.4 L321.3,784.4 L322.3,784.3 L323.3,784.3 L324.3,784.2 L325.3,784.2 L326.3,784.1 L327.3,784.1 L328.3,784.0 L329.3,784.0 L330.3,783.9 L331.3,783.8 L332.3,783.7 L333.3,783.7 L334.3,783.6 L335.3,783.5 L336.3,783.4 L337.3,783.3 L338.3,783.3 L339.0,783.2 L339.3,783.2 L340.3,783.0 L341.3,782.8 L342.3,782.6 L343.3,782.3 L344.3,782.0 L345.3,781.6 L346.3,781.3 L347.3,780.8 L348.3,780.4 L349.3,779.9 L350.3,779.4 L351.3,778.9 L352.3,778.4 L353.3,777.9 L354.3,777.4 L355.3,776.8 L356.3,776.3 L357.3,775.8 L358.3,775.3 L359.0,775.0 L359.3,774.8 L360.3,774.3 L361.3,773.8 L362.3,773.3 L363.3,772.8 L364.3,772.2 L365.3,771.7 L366.3,771.1 L367.3,770.5 L368.3,769.9 L369.3,769.3 L370.3,768.7 L371.3,768.1 L372.3,767.5 L373.3,766.9 L374.3,766.3 L375.3,765.7 L376.3,765.1 L377.3,764.5 L378.3,763.9 L378.5,763.8 L379.3,763.3 L380.3,762.7 L381.3,762.1 L382.3,761.5 L383.3,760.9 L384.3,760.3 L385.4,759.6 L386.4,759.0 L387.4,758.4 L388.4,757.8 L389.4,757.2 L390.4,756.6 L391.4,755.9 L392.4,755.3 L393.4,754.7 L394.4,754.1 L395.4,753.5 L396.4,752.9 L397.4,752.4 L398.0,752.0 L398.4,751.8 L399.4,751.2 L400.4,750.7 L401.4,750.1 L402.4,749.6 L403.4,749.0 L404.4,748.5 L405.4,748.0 L406.4,747.4 L407.4,746.9 L408.4,746.4 L409.4,745.8 L410.0,745.5 L410.4,745.3 L411.4,744.8 L412.4,744.2 L413.4,743.7 L414.4,743.1 L415.4,742.6 L416.4,742.1 L417.4,741.6 L417.5,741.5 L418.4,741.1 L419.4,740.6 L420.4,740.1 L421.4,739.6 L422.4,739.2 L423.4,738.7 L424.4,738.2 L425.4,737.8 L426.4,737.4 L427.4,737.0 L428.4,736.7 L429.4,736.3 L429.5,736.3 L430.4,736.0 L431.4,735.7 L432.4,735.4 L433.4,735.1 L434.4,734.8 L435.4,734.5 L436.4,734.2 L437.4,733.9 L438.4,733.6 L439.4,733.3 L440.4,733.1 L441.4,732.8 L442.4,732.6 L443.4,732.4 L444.4,732.3 L445.4,732.1 L446.4,732.0 L447.4,731.9 L448.4,731.9 L449.0,731.9 L449.4,731.9 L450.4,731.9 L451.4,731.9 L452.4,731.9 L453.4,731.9 L454.4,732.0 L455.4,732.0 L456.4,732.0 L457.4,732.0 L458.4,732.1 L459.4,732.1 L460.4,732.1 L461.4,732.2 L462.4,732.2 L463.4,732.2 L464.4,732.3 L465.4,732.3 L466.4,732.4 L466.5,732.4 L467.4,732.5 L468.4,732.6 L469.4,732.8 L470.4,733.0 L471.4,733.2 L472.4,733.5 L473.4,733.8 L474.4,734.1 L475.4,734.4 L476.4,734.7 L477.4,735.1 L478.2,735.3 L478.4,735.4 L479.4,735.7 L480.4,736.1 L481.4,736.6 L482.4,737.1 L483.4,737.6 L484.4,738.1 L485.4,738.6 L486.4,739.1 L487.4,739.5 L488.4,739.8 L489.4,740.0 L490.4,740.2 L490.9,740.2 L491.4,740.2 L492.4,740.2 L493.4,740.2 L494.4,740.3 L495.4,740.3 L496.4,740.3 L497.4,740.3 L498.4,740.3 L499.4,740.3 L500.4,740.3 L501.4,740.4 L502.4,740.4 L503.4,740.4 L504.4,740.4 L505.4,740.4 L506.4,740.4 L507.4,740.4 L508.4,740.4 L509.4,740.4 L510.4,740.4 L511.4,740.4 L511.4,740.4 L512.4,740.3 L513.4,740.0 L514.4,739.6 L515.4,739.1 L516.4,738.4 L517.4,737.7 L518.2,737.2 L518.5,737.0 L519.5,736.0 L520.5,734.7 L521.5,733.2 L522.5,731.4 L523.5,729.6 L524.0,728.5 L524.5,727.6 L525.5,725.3 L526.5,722.8 L527.5,720.0 L528.5,717.0 L529.5,713.7 L530.0,711.9 L530.5,710.3 L531.5,706.3 L532.5,701.9 L533.5,697.2 L534.5,692.2 L535.5,687.1 L536.5,681.9 L537.5,676.8 L538.5,671.9 L539.5,667.2 L539.5,667.0 L540.5,662.7 L541.5,658.3 L542.5,654.0 L543.5,649.6 L544.3,646.0 L544.5,645.3 L545.5,640.8 L546.5,636.3 L547.5,631.8 L548.5,627.3 L549.5,622.8 L550.5,618.3 L551.5,613.9 L552.5,609.6 L553.1,607.0 L553.5,605.4 L554.5,600.9 L555.5,596.4 L556.5,592.2 L557.5,588.8 L558.0,587.5 L558.5,586.4 L559.5,584.2 L560.5,582.1 L561.5,580.2 L562.5,578.5 L563.5,577.2 L564.5,576.3 L565.5,575.8 L565.8,575.8 L566.5,575.9 L567.5,576.4 L568.5,577.3 L569.5,578.5 L570.5,579.9 L571.5,581.6 L572.5,583.4 L573.5,585.3 L574.5,587.3 L574.6,587.5 L575.5,589.6 L576.5,592.6 L577.5,596.1 L578.5,599.9 L579.5,603.7 L580.4,607.0 L580.5,607.3 L581.5,610.9 L582.5,614.5 L583.5,618.1 L584.5,621.8 L585.5,625.6 L586.5,629.3 L587.5,633.0 L588.5,636.7 L589.5,640.3 L590.5,643.9 L591.1,646.0 L591.5,647.4 L592.5,650.9 L593.5,654.4 L594.5,657.8 L595.5,661.2 L596.5,664.5 L597.3,667.0 L597.5,667.7 L598.5,670.8 L599.5,674.0 L600.5,677.1 L601.5,680.2 L602.5,683.2 L603.5,686.2 L604.5,689.2 L605.5,692.1 L606.5,694.9 L607.5,697.6 L608.5,700.2 L609.2,701.9 L609.5,702.7 L610.5,705.2 L611.5,707.6 L612.5,710.0 L613.5,712.4 L614.5,714.7 L615.5,716.9 L616.5,719.0 L617.5,721.1 L618.5,723.0 L619.5,724.9 L620.5,726.6 L620.9,727.2 L621.5,728.2 L622.5,729.8 L623.5,731.4 L624.5,732.9 L625.5,734.4 L626.5,735.9 L627.5,737.3 L628.5,738.7 L629.5,740.0 L630.5,741.2 L631.5,742.3 L632.5,743.4 L633.5,744.4 L634.5,745.3 L635.5,746.1 L636.5,746.7 L636.5,746.7 L637.5,747.3 L638.5,747.9 L639.5,748.5 L640.5,749.0 L641.5,749.5 L642.5,750.0 L643.5,750.4 L644.5,750.9 L645.5,751.3 L646.5,751.7 L647.5,752.0 L648.5,752.4 L649.5,752.7 L650.5,753.0 L651.6,753.3 L652.6,753.6 L653.6,753.9 L654.6,754.2 L655.6,754.4 L656.0,754.5 L656.6,754.6 L657.6,754.9 L658.6,755.1 L659.6,755.3 L660.6,755.5 L661.6,755.7 L662.6,755.9 L663.6,756.1 L664.6,756.3 L665.6,756.5 L666.6,756.7 L667.6,756.9 L668.6,757.1 L669.6,757.2 L670.6,757.4 L671.6,757.6 L672.6,757.7 L673.6,757.9 L674.6,758.0 L675.6,758.2 L676.6,758.3 L677.6,758.5 L678.6,758.6 L679.6,758.8 L680.6,758.9 L681.6,759.0 L682.6,759.1 L683.6,759.3 L684.6,759.4 L685.6,759.5 L686.6,759.6 L687.6,759.7 L688.6,759.8 L689.6,759.9 L690.6,760.0 L691.6,760.1 L692.6,760.2 L693.6,760.3 L694.6,760.4 L695.0,760.4 L695.6,760.4 L696.6,760.5 L697.6,760.6 L698.6,760.7 L699.6,760.8 L700.6,760.9 L701.6,760.9 L702.6,761.0 L703.6,761.1 L704.6,761.2 L705.6,761.3 L706.6,761.3 L707.6,761.4 L708.6,761.5 L709.6,761.6 L710.6,761.6 L711.6,761.7 L712.6,761.8 L713.6,761.9 L714.6,761.9 L715.6,762.0 L716.6,762.0 L717.6,762.1 L718.6,762.2 L719.6,762.2 L720.6,762.3 L721.6,762.3 L722.6,762.4 L723.6,762.4 L724.6,762.5 L725.6,762.5 L726.6,762.6 L727.6,762.6 L728.6,762.6 L729.6,762.7 L730.6,762.7 L731.6,762.7 L732.6,762.7 L733.6,762.8 L734.6,762.8 L735.6,762.8 L736.6,762.8 L737.6,762.8 L738.0,762.8 L738.6,762.8 L739.6,762.8 L740.6,762.7 L741.6,762.6 L742.6,762.5 L743.6,762.4 L744.6,762.2 L745.6,762.0 L746.6,761.8 L747.6,761.6 L748.0,761.5 L748.6,761.3 L749.6,760.8 L750.6,760.0 L751.6,759.0 L752.6,757.9 L753.6,756.5 L754.6,755.0 L755.6,753.4 L756.6,751.7 L757.0,751.0 L757.6,749.7 L758.6,747.1 L759.6,743.9 L760.6,740.2 L761.6,736.1 L762.6,731.6 L763.6,726.8 L764.0,725.0 L764.6,721.7 L765.6,716.1 L766.6,709.6 L767.6,702.1 L768.6,693.4 L769.0,690.0 L769.6,682.6 L770.6,667.6 L771.6,650.9 L772.5,637.5 L772.6,635.5 L773.6,621.6 L774.6,608.3 L775.6,595.2 L776.6,581.8 L777.6,567.8 L778.5,555.0 L778.6,552.7 L779.6,536.6 L780.6,519.6 L781.6,501.6 L782.6,482.5 L782.9,477.5 L783.7,461.1 L784.7,436.2 L785.7,410.8 L786.7,388.0 L787.3,376.0 L787.7,370.4 L788.7,355.9 L789.7,343.2 L790.7,331.7 L791.7,321.0 L792.0,317.5 L792.7,310.8 L793.7,300.7 L794.7,291.5 L795.7,283.6 L796.5,278.5 L796.7,277.7 L797.7,272.6 L798.7,267.8 L799.7,263.6 L800.7,260.2 L801.7,257.9 L802.7,257.0 L802.7,257.0 L803.7,258.1 L804.7,261.0 L805.7,265.4 L806.7,270.5 L807.7,275.8 L808.2,278.5 L808.7,280.9 L809.7,286.6 L810.7,292.9 L811.7,299.8 L812.7,307.2 L813.7,314.9 L814.0,317.5 L814.7,323.0 L815.7,331.6 L816.7,340.7 L817.7,350.5 L818.7,361.0 L819.7,372.2 L820.0,376.0 L820.7,384.5 L821.7,398.7 L822.7,414.3 L823.7,430.5 L824.7,446.8 L825.7,462.6 L826.7,477.3 L826.7,477.5 L827.7,491.0 L828.7,504.4 L829.7,517.3 L830.7,529.5 L831.6,540.0 L831.7,540.9 L832.7,551.6 L833.7,561.7 L834.7,571.4 L835.7,580.7 L836.7,589.8 L837.7,598.7 L838.7,607.5 L839.7,616.4 L840.7,625.4 L841.7,634.6 L842.0,637.5 L842.7,644.2 L843.7,654.4 L844.7,664.6 L845.7,674.4 L846.7,683.5 L847.5,690.0 L847.7,691.5 L848.7,698.8 L849.7,705.7 L850.7,711.7 L851.7,716.8 L852.0,718.0 L852.7,720.7 L853.7,724.4 L854.7,727.8 L855.7,731.0 L856.7,733.9 L857.7,736.5 L858.7,738.9 L859.7,741.1 L860.7,743.0 L861.7,744.6 L862.0,745.0 L862.7,746.0 L863.7,747.3 L864.7,748.5 L865.7,749.7 L866.7,750.7 L867.7,751.7 L868.7,752.7 L869.7,753.5 L870.7,754.3 L871.7,755.1 L872.7,755.7 L873.7,756.3 L874.7,756.9 L875.0,757.0 L875.7,757.4 L876.7,757.8 L877.7,758.3 L878.7,758.7 L879.7,759.1 L880.7,759.5 L881.7,759.9 L882.7,760.2 L883.7,760.5 L884.7,760.8 L885.7,761.1 L886.7,761.3 L887.7,761.6 L888.7,761.8 L889.7,762.0 L890.0,762.0 L890.7,762.1 L891.7,762.3 L892.7,762.4 L893.7,762.5 L894.7,762.7 L895.7,762.8 L896.7,762.9 L897.7,763.0 L898.7,763.1 L899.7,763.2 L900.7,763.3 L901.7,763.4 L902.7,763.4 L903.7,763.5 L904.0,763.5 L904.7,763.5 L905.7,763.6 L906.7,763.7 L907.7,763.7 L908.7,763.8 L909.7,763.8 L910.7,763.9 L911.7,763.9 L912.7,764.0 L913.7,764.0 L914.7,764.0 L915.7,764.1 L916.8,764.1 L917.8,764.2 L918.8,764.2 L919.8,764.2 L920.8,764.2 L921.8,764.3 L922.8,764.3 L923.8,764.3 L924.8,764.3 L925.8,764.3 L926.0,764.3 L926.8,764.2 L927.8,764.0 L928.8,763.5 L929.8,762.9 L930.8,762.1 L931.8,761.2 L932.8,760.2 L933.8,759.1 L934.8,757.9 L935.8,756.7 L936.8,755.5 L937.8,754.3 L938.0,754.0 L938.8,753.0 L939.8,751.5 L940.8,749.7 L941.8,747.8 L942.8,745.7 L943.8,743.6 L944.8,741.4 L945.8,739.1 L946.8,737.0 L947.7,735.0 L947.8,734.8 L948.8,732.7 L949.8,730.5 L950.8,728.3 L951.8,726.0 L952.8,723.7 L953.8,721.4 L954.8,719.2 L955.8,717.0 L956.8,715.0 L957.5,713.6 L957.8,713.1 L958.8,711.1 L959.8,709.1 L960.8,707.1 L961.8,705.2 L962.8,703.5 L963.8,701.9 L964.8,700.5 L965.8,699.4 L966.3,699.0 L966.8,698.7 L967.8,698.0 L968.8,697.3 L969.8,696.7 L970.8,696.1 L971.8,695.7 L972.8,695.3 L973.8,695.1 L974.8,695.0 L975.0,695.0 L975.8,695.0 L976.8,695.2 L977.8,695.5 L978.8,695.9 L979.8,696.4 L980.8,697.0 L981.8,697.6 L982.8,698.3 L983.8,699.0 L984.8,699.7 L985.8,700.4 L986.7,701.0 L986.8,701.1 L987.8,701.8 L988.8,702.6 L989.8,703.5 L990.8,704.4 L991.8,705.4 L992.8,706.4 L993.8,707.5 L994.8,708.6 L995.8,709.8 L996.8,711.0 L997.8,712.2 L998.8,713.5 L999.8,714.8 L1000.4,715.5 L1000.8,716.0 L1001.8,717.4 L1002.8,718.8 L1003.8,720.3 L1004.8,721.9 L1005.8,723.5 L1006.8,725.1 L1007.8,726.8 L1008.8,728.5 L1009.8,730.3 L1010.8,732.0 L1011.8,733.8 L1012.8,735.5 L1013.8,737.2 L1014.8,738.9 L1015.8,740.6 L1016.0,740.9 L1016.8,742.3 L1017.8,744.1 L1018.8,745.9 L1019.8,747.8 L1020.8,749.7 L1021.8,751.5 L1022.8,753.4 L1023.8,755.1 L1024.8,756.7 L1025.8,758.1 L1026.8,759.4 L1027.7,760.4 L1027.8,760.5 L1028.8,761.5 L1029.8,762.5 L1030.8,763.4 L1031.8,764.3 L1032.8,765.1 L1033.8,765.9 L1034.8,766.7 L1035.8,767.4 L1036.8,768.0 L1037.8,768.6 L1038.8,769.1 L1039.8,769.6 L1040.8,769.9 L1041.3,770.1 L1041.8,770.3 L1042.8,770.6 L1043.8,770.9 L1044.8,771.2 L1045.8,771.5 L1046.8,771.8 L1047.8,772.0 L1048.8,772.3 L1049.9,772.5 L1050.9,772.7 L1051.9,772.9 L1052.9,773.1 L1053.9,773.2 L1054.9,773.3 L1055.9,773.4 L1056.9,773.5 L1057.9,773.5 L1058.0,773.5 L1058.9,773.5 L1059.9,773.5 L1060.9,773.5 L1061.9,773.5 L1062.9,773.5 L1063.9,773.5 L1064.9,773.5 L1065.9,773.5 L1066.9,773.5 L1067.9,773.5 L1068.9,773.5 L1069.9,773.5 L1070.9,773.5 L1071.9,773.5 L1072.9,773.5 L1073.9,773.5 L1074.9,773.5 L1075.9,773.5 L1076.9,773.5 L1077.9,773.5 L1078.0,773.5 L1078.9,773.5 L1079.9,773.3 L1080.9,773.0 L1081.9,772.7 L1082.9,772.3 L1083.9,771.8 L1084.9,771.2 L1085.9,770.6 L1086.9,770.0 L1087.9,769.4 L1088.9,768.7 L1089.9,768.1 L1090.0,768.0 L1090.9,767.4 L1091.9,766.6 L1092.9,765.6 L1093.9,764.6 L1094.9,763.5 L1095.9,762.3 L1096.9,761.1 L1097.9,759.9 L1098.9,758.6 L1099.9,757.4 L1100.9,756.2 L1101.9,755.1 L1102.4,754.5 L1102.9,754.0 L1103.9,752.8 L1104.9,751.7 L1105.9,750.5 L1106.9,749.4 L1107.9,748.2 L1108.9,747.1 L1109.9,745.9 L1110.9,744.9 L1111.9,743.8 L1112.9,742.9 L1113.9,742.0 L1114.0,741.9 L1114.9,741.1 L1115.9,740.2 L1116.9,739.3 L1117.9,738.4 L1118.9,737.4 L1119.9,736.6 L1120.9,735.7 L1121.9,735.0 L1122.9,734.4 L1123.9,733.8 L1124.9,733.4 L1125.9,733.2 L1126.8,733.1 L1126.9,733.1 L1127.9,733.2 L1128.9,733.3 L1129.9,733.6 L1130.9,733.9 L1131.9,734.3 L1132.9,734.8 L1133.9,735.4 L1134.9,736.0 L1135.9,736.7 L1136.9,737.4 L1137.9,738.1 L1138.9,738.9 L1139.9,739.7 L1140.9,740.5 L1141.4,740.9 L1141.9,741.4 L1142.9,742.5 L1143.9,744.0 L1144.9,745.6 L1145.9,747.5 L1146.9,749.4 L1147.9,751.4 L1148.9,753.4 L1149.9,755.3 L1150.9,757.1 L1151.9,758.8 L1152.9,760.2 L1153.1,760.4 L1153.9,761.4 L1154.9,762.7 L1155.9,763.9 L1156.9,765.2 L1157.9,766.3 L1158.9,767.4 L1159.9,768.5 L1160.9,769.5 L1161.9,770.3 L1162.9,771.1 L1163.9,771.7 L1164.8,772.1 L1164.9,772.2 L1165.9,772.6 L1166.9,773.0 L1167.9,773.3 L1168.9,773.7 L1169.9,774.1 L1170.9,774.4 L1171.9,774.7 L1172.9,775.0 L1173.9,775.2 L1174.9,775.4 L1175.9,775.6 L1176.9,775.8 L1177.9,775.9 L1178.9,776.0 L1179.9,776.0 L1180.0,776.0 L1180.9,776.0 L1181.9,776.0 L1183.0,776.1 L1184.0,776.1 L1185.0,776.1 L1186.0,776.1 L1187.0,776.1 L1188.0,776.1 L1189.0,776.1 L1190.0,776.2 L1191.0,776.2 L1192.0,776.2 L1193.0,776.2 L1194.0,776.2 L1195.0,776.2 L1196.0,776.2 L1197.0,776.2 L1198.0,776.3 L1199.0,776.3 L1200.0,776.3 L1201.0,776.3 L1202.0,776.3 L1203.0,776.3 L1204.0,776.3 L1205.0,776.3 L1206.0,776.3 L1207.0,776.3 L1208.0,776.4 L1209.0,776.4 L1210.0,776.4 L1211.0,776.4 L1212.0,776.4 L1213.0,776.4 L1214.0,776.4 L1215.0,776.4 L1216.0,776.4 L1217.0,776.4 L1218.0,776.4 L1219.0,776.4 L1220.0,776.4 L1221.0,776.4 L1222.0,776.4 L1223.0,776.4 L1224.0,776.5 L1225.0,776.5 L1226.0,776.5 L1227.0,776.5 L1228.0,776.5 L1229.0,776.5 L1230.0,776.5 L1231.0,776.5 L1232.0,776.5 L1233.0,776.5 L1234.0,776.5 L1235.0,776.5 L1236.0,776.5 L1237.0,776.5 L1238.0,776.5 L1239.0,776.5 L1240.0,776.5 L1241.0,776.5 L1242.0,776.5 L1243.0,776.5 L1244.0,776.5 L1245.0,776.5 L1246.0,776.5 L1247.0,776.5 L1248.0,776.5 L1249.0,776.5" stroke="#8c8c8c" stroke-width="5.6"/>
<path d="M185.2,784.6 L186.2,784.6 L187.2,784.6 L188.2,784.6 L189.2,784.6 L190.2,784.6 L191.2,784.6 L192.2,784.6 L193.2,784.6 L194.2,784.6 L195.2,784.6 L196.2,784.6 L197.2,784.6 L198.2,784.6 L199.2,784.6 L200.2,784.6 L201.2,784.6 L202.2,784.6 L203.2,784.6 L204.2,784.6 L205.2,784.6 L206.2,784.6 L207.2,784.6 L208.2,784.6 L209.2,784.6 L210.2,784.6 L211.2,784.6 L212.2,784.6 L213.2,784.6 L214.2,784.6 L215.2,784.6 L216.2,784.6 L217.2,784.6 L218.2,784.6 L219.2,784.6 L220.2,784.6 L221.2,784.6 L222.2,784.6 L223.2,784.6 L224.2,784.6 L225.2,784.6 L226.2,784.6 L227.2,784.6 L228.2,784.6 L229.2,784.6 L230.2,784.6 L231.2,784.6 L232.2,784.6 L233.2,784.6 L234.2,784.6 L235.2,784.6 L236.2,784.6 L237.2,784.6 L238.2,784.6 L239.2,784.6 L240.2,784.6 L241.2,784.6 L242.2,784.6 L243.2,784.6 L244.2,784.6 L245.2,784.6 L246.2,784.6 L247.2,784.6 L248.2,784.6 L249.2,784.6 L250.2,784.6 L251.2,784.6 L252.2,784.6 L253.2,784.6 L254.2,784.6 L255.2,784.6 L256.2,784.6 L257.2,784.6 L258.2,784.6 L259.2,784.6 L260.2,784.6 L261.2,784.6 L262.2,784.6 L263.2,784.6 L264.2,784.6 L265.2,784.6 L266.2,784.6 L267.2,784.6 L268.2,784.6 L269.2,784.6 L270.2,784.6 L271.2,784.6 L272.2,784.6 L273.2,784.6 L274.2,784.6 L275.2,784.6 L276.2,784.6 L277.2,784.6 L278.2,784.6 L279.2,784.6 L280.2,784.6 L281.2,784.6 L282.2,784.6 L283.2,784.6 L284.2,784.6 L285.2,784.6 L286.2,784.6 L287.2,784.6 L288.2,784.6 L289.2,784.6 L290.2,784.6 L291.2,784.6 L292.2,784.6 L293.2,784.6 L294.2,784.6 L295.2,784.6 L296.2,784.6 L297.2,784.6 L298.2,784.6 L299.2,784.6 L300.0,784.6 L300.2,784.6 L301.2,784.6 L302.2,784.6 L303.2,784.6 L304.2,784.6 L305.2,784.6 L306.2,784.6 L307.2,784.6 L308.2,784.5 L309.2,784.5 L310.2,784.5 L311.2,784.5 L312.2,784.5 L313.2,784.5 L314.2,784.4 L315.2,784.4 L316.2,784.4 L317.2,784.3 L318.2,784.3 L319.2,784.3 L320.2,784.3 L321.2,784.2 L322.2,784.2 L323.2,784.1 L324.2,784.1 L325.2,784.0 L326.2,784.0 L327.2,783.9 L328.2,783.9 L329.2,783.8 L330.0,783.8 L330.2,783.8 L331.2,783.7 L332.2,783.5 L333.2,783.3 L334.2,783.1 L335.2,782.8 L336.2,782.5 L337.2,782.1 L338.2,781.8 L339.0,781.5 L339.2,781.4 L340.2,781.0 L341.2,780.5 L342.2,780.0 L343.2,779.4 L344.2,778.7 L345.2,778.0 L346.2,777.3 L347.2,776.5 L348.2,775.8 L349.2,775.0 L350.2,774.2 L351.2,773.5 L352.2,772.7 L353.2,772.0 L354.0,771.5 L354.2,771.3 L355.2,770.7 L356.2,770.1 L357.2,769.4 L358.2,768.8 L359.2,768.2 L360.2,767.6 L361.2,767.0 L362.2,766.3 L363.2,765.7 L364.2,765.0 L365.2,764.3 L366.2,763.6 L367.2,762.8 L368.2,762.0 L368.7,761.6 L369.2,761.1 L370.2,760.2 L371.2,759.1 L372.2,758.0 L373.2,756.8 L374.2,755.6 L375.2,754.4 L376.2,753.1 L377.2,751.9 L378.0,751.0 L378.2,750.7 L379.2,749.5 L380.2,748.3 L381.2,747.1 L382.2,745.9 L383.2,744.7 L384.2,743.5 L385.2,742.2 L386.2,741.0 L387.2,739.8 L388.2,738.5 L389.2,737.3 L390.2,736.1 L391.2,734.8 L392.2,733.6 L393.2,732.4 L394.2,731.2 L395.2,730.0 L396.2,728.8 L397.2,727.6 L398.0,726.7 L398.2,726.4 L399.2,725.2 L400.2,724.0 L401.2,722.8 L402.2,721.6 L403.2,720.3 L404.2,719.1 L405.2,718.0 L406.2,716.8 L407.2,715.8 L408.2,714.8 L409.2,713.8 L410.0,713.2 L410.2,713.0 L411.2,712.3 L412.2,711.6 L413.2,711.0 L414.2,710.3 L415.2,709.7 L416.2,709.1 L417.2,708.5 L417.5,708.3 L418.2,707.8 L419.2,707.0 L420.2,706.2 L421.2,705.3 L422.2,704.5 L423.2,703.6 L424.2,702.8 L425.2,702.0 L426.2,701.2 L427.2,700.5 L428.2,699.9 L429.2,699.3 L429.5,699.2 L430.2,698.9 L431.2,698.4 L432.2,698.0 L433.2,697.5 L434.2,697.1 L435.2,696.7 L436.2,696.3 L437.2,696.0 L438.2,695.6 L439.2,695.3 L440.2,694.9 L441.2,694.6 L442.2,694.4 L443.2,694.1 L444.2,693.8 L445.2,693.6 L446.2,693.4 L447.2,693.2 L448.2,693.0 L449.0,692.9 L449.2,692.9 L450.2,692.7 L451.3,692.6 L452.3,692.4 L453.3,692.3 L454.3,692.2 L455.3,692.1 L456.3,692.0 L457.3,691.9 L458.3,691.9 L458.7,691.9 L459.3,691.9 L460.3,692.0 L461.3,692.1 L462.3,692.2 L463.3,692.3 L464.3,692.5 L465.3,692.7 L466.3,692.9 L467.3,693.1 L468.3,693.3 L468.5,693.4 L469.3,693.6 L470.3,693.8 L471.3,694.0 L472.3,694.3 L473.3,694.6 L474.3,694.9 L475.3,695.2 L476.3,695.6 L477.3,695.9 L478.3,696.3 L479.3,696.7 L480.3,697.1 L481.3,697.5 L482.3,697.9 L483.1,698.3 L483.3,698.4 L484.3,698.9 L485.3,699.5 L486.3,700.1 L487.3,700.8 L488.3,701.5 L489.3,702.2 L490.3,702.8 L491.3,703.4 L492.3,703.9 L492.8,704.1 L493.3,704.3 L494.3,704.7 L495.3,705.0 L496.3,705.4 L497.3,705.8 L498.3,706.1 L499.3,706.4 L500.3,706.6 L501.3,706.7 L502.3,706.8 L502.6,706.8 L503.3,706.8 L504.3,706.8 L505.3,706.8 L506.3,706.7 L507.3,706.7 L508.3,706.7 L509.3,706.6 L510.3,706.6 L511.3,706.5 L511.4,706.5 L512.3,706.3 L513.3,705.7 L514.3,704.8 L515.3,703.6 L516.3,702.4 L517.2,701.2 L517.3,701.1 L518.3,699.7 L519.3,697.9 L520.3,695.8 L521.3,693.6 L522.3,691.3 L523.0,689.5 L523.3,688.9 L524.3,686.3 L525.3,683.6 L526.3,680.6 L527.3,677.3 L527.9,674.9 L528.3,673.4 L529.3,668.9 L530.3,663.8 L531.3,658.0 L532.3,651.8 L533.3,645.1 L534.0,640.0 L534.3,638.0 L535.3,629.2 L535.6,626.5 L536.3,621.5 L537.3,614.1 L538.3,607.0 L539.3,600.3 L540.3,594.0 L541.3,588.2 L541.4,587.5 L542.3,582.9 L543.3,578.0 L544.3,573.4 L545.3,569.0 L546.3,564.7 L547.3,560.6 L548.3,556.5 L549.3,552.4 L550.2,548.5 L550.3,548.2 L551.3,543.8 L552.3,539.2 L553.3,534.9 L554.3,531.2 L555.0,529.0 L555.3,528.3 L556.3,525.7 L557.3,523.2 L558.3,520.8 L559.3,518.6 L560.3,516.7 L561.3,515.2 L562.3,514.1 L563.3,513.5 L563.8,513.4 L564.3,513.5 L565.3,513.9 L566.3,514.8 L567.3,516.1 L568.3,517.7 L569.3,519.6 L570.3,521.6 L571.3,523.8 L572.3,526.0 L573.3,528.3 L573.6,529.0 L574.3,530.6 L575.3,533.5 L576.3,536.8 L577.3,540.4 L578.3,544.2 L579.3,548.0 L579.4,548.5 L580.3,551.9 L581.3,556.1 L582.3,560.5 L583.3,565.1 L584.3,569.7 L585.3,574.4 L586.3,579.0 L587.3,583.5 L588.2,587.5 L588.3,587.8 L589.3,592.0 L590.3,596.2 L591.3,600.3 L592.3,604.4 L593.3,608.5 L594.3,612.5 L595.3,616.5 L596.3,620.4 L597.3,624.4 L598.2,628.0 L598.3,628.3 L599.3,632.2 L600.3,636.2 L601.3,640.1 L602.3,644.0 L603.3,647.7 L604.3,651.4 L605.3,655.0 L605.3,655.1 L606.3,658.5 L607.3,662.1 L608.3,665.6 L609.3,669.0 L610.3,672.4 L611.3,675.6 L612.3,678.7 L613.3,681.7 L614.3,684.5 L615.0,686.3 L615.3,687.0 L616.3,689.4 L617.3,691.8 L618.3,694.1 L619.3,696.4 L620.3,698.5 L621.3,700.5 L622.3,702.5 L623.3,704.3 L624.3,706.1 L625.3,707.7 L626.3,709.1 L626.7,709.7 L627.3,710.5 L628.3,711.7 L629.3,713.0 L630.3,714.1 L631.3,715.2 L632.3,716.3 L633.3,717.3 L634.3,718.3 L635.3,719.2 L636.3,720.1 L637.3,720.9 L638.3,721.7 L639.3,722.5 L640.3,723.2 L640.4,723.3 L641.3,723.9 L642.3,724.6 L643.3,725.3 L644.3,726.0 L645.3,726.6 L646.3,727.2 L647.3,727.8 L648.3,728.4 L649.3,728.9 L650.3,729.5 L651.3,730.0 L652.3,730.5 L653.3,730.9 L654.3,731.4 L655.3,731.8 L656.0,732.1 L656.3,732.2 L657.3,732.6 L658.3,733.0 L659.3,733.3 L660.3,733.7 L661.3,734.0 L662.3,734.4 L663.3,734.7 L664.3,735.0 L665.3,735.3 L666.3,735.6 L667.3,735.9 L668.3,736.2 L669.3,736.4 L670.3,736.7 L671.3,737.0 L672.3,737.2 L673.3,737.5 L674.3,737.7 L675.3,737.9 L675.5,738.0 L676.3,738.2 L677.3,738.4 L678.3,738.7 L679.3,738.9 L680.3,739.1 L681.3,739.3 L682.3,739.6 L683.3,739.8 L684.3,740.0 L685.3,740.2 L686.3,740.4 L687.3,740.6 L688.3,740.8 L689.3,741.0 L690.3,741.1 L691.3,741.3 L692.3,741.5 L693.3,741.6 L694.3,741.8 L695.0,741.9 L695.3,741.9 L696.3,742.1 L697.3,742.2 L698.3,742.4 L699.3,742.5 L700.3,742.7 L701.3,742.8 L702.3,743.0 L703.3,743.1 L704.3,743.2 L705.3,743.4 L706.3,743.5 L707.3,743.6 L708.3,743.7 L709.3,743.8 L710.3,743.9 L711.3,744.0 L712.3,744.1 L713.3,744.1 L714.3,744.2 L714.5,744.2 L715.3,744.2 L716.3,744.3 L717.3,744.3 L718.3,744.4 L719.3,744.4 L720.3,744.5 L721.3,744.5 L722.3,744.5 L723.3,744.6 L724.3,744.6 L725.3,744.7 L726.3,744.7 L727.3,744.7 L728.3,744.8 L729.3,744.8 L730.3,744.8 L731.3,744.8 L732.3,744.8 L733.3,744.9 L734.3,744.9 L735.3,744.9 L736.3,744.9 L737.3,744.9 L738.0,744.9 L738.3,744.9 L739.3,744.8 L740.3,744.7 L741.3,744.4 L742.3,744.1 L743.3,743.7 L744.3,743.3 L745.3,742.8 L746.3,742.2 L747.3,741.6 L747.7,741.4 L748.3,741.0 L749.3,740.0 L750.3,738.7 L751.3,737.1 L752.3,735.2 L753.3,733.1 L754.3,730.7 L755.3,728.2 L755.5,727.7 L756.3,725.2 L757.3,721.2 L758.3,716.4 L759.3,711.0 L760.3,705.2 L761.3,699.1 L761.4,698.5 L762.3,692.8 L763.3,685.9 L764.3,678.3 L765.3,669.5 L766.3,659.5 L766.3,659.4 L767.3,645.1 L767.8,637.5 L768.3,630.2 L769.3,616.5 L770.3,603.3 L771.3,589.6 L772.3,574.8 L773.3,558.1 L774.0,545.0 L774.3,538.3 L775.3,511.7 L776.3,482.7 L776.5,477.5 L777.3,454.7 L778.3,426.3 L779.3,400.0 L779.5,395.5 L780.3,377.4 L781.3,356.7 L782.3,337.5 L783.3,319.1 L783.4,317.5 L784.3,301.7 L785.3,285.7 L786.3,270.0 L787.3,253.8 L788.1,240.0 L788.3,235.9 L789.3,213.6 L790.3,191.3 L791.2,177.0 L791.3,175.7 L792.3,165.9 L793.3,158.1 L794.3,151.7 L795.0,147.7 L795.3,145.9 L796.3,140.0 L797.3,134.3 L798.3,129.6 L799.3,126.7 L800.0,126.0 L800.3,126.1 L801.3,127.5 L802.3,130.4 L803.3,134.4 L804.3,139.3 L805.3,144.5 L805.9,147.7 L806.3,150.3 L807.3,158.5 L808.3,168.3 L809.2,177.0 L809.3,178.1 L810.3,187.8 L811.3,197.9 L812.3,208.2 L813.3,218.6 L814.3,229.0 L815.3,239.2 L815.4,240.0 L816.3,249.0 L817.3,258.5 L818.3,267.9 L819.3,277.2 L820.3,286.8 L821.3,296.8 L822.3,307.5 L823.2,317.5 L823.3,318.9 L824.3,331.5 L825.3,345.1 L826.3,359.5 L827.3,374.4 L828.3,389.7 L828.7,395.5 L829.3,405.1 L830.3,420.9 L831.3,437.2 L832.3,454.3 L833.3,472.3 L833.6,477.5 L834.3,492.5 L835.3,515.6 L836.3,536.9 L836.8,545.0 L837.3,552.7 L838.3,566.4 L839.3,578.9 L840.3,590.4 L841.3,601.0 L842.3,610.9 L843.3,620.2 L844.3,629.1 L845.3,637.5 L845.3,637.7 L846.3,645.9 L847.3,653.7 L848.3,660.9 L849.3,667.8 L850.3,674.2 L851.1,679.0 L851.3,680.4 L852.3,686.4 L853.3,692.4 L854.3,698.1 L855.3,703.5 L856.3,708.4 L857.3,712.7 L858.3,716.3 L858.4,716.5 L859.3,719.3 L860.3,722.1 L861.3,724.7 L862.3,727.2 L863.3,729.4 L864.3,731.6 L865.3,733.5 L866.3,735.4 L867.3,737.1 L868.3,738.6 L869.3,740.1 L870.2,741.2 L870.3,741.4 L871.3,742.6 L872.3,743.8 L873.3,744.9 L874.3,746.0 L875.3,747.1 L876.3,748.1 L877.3,749.0 L878.3,749.8 L879.3,750.6 L880.3,751.4 L881.3,752.0 L882.3,752.6 L883.3,753.2 L883.8,753.4 L884.3,753.6 L885.3,754.1 L886.3,754.5 L887.3,755.0 L888.3,755.4 L889.3,755.8 L890.3,756.2 L891.3,756.6 L892.3,756.9 L893.3,757.3 L894.3,757.6 L895.3,757.9 L896.3,758.1 L897.3,758.3 L898.3,758.5 L899.3,758.6 L900.3,758.7 L901.3,758.8 L902.0,758.8 L902.3,758.8 L903.3,758.8 L904.3,758.8 L905.3,758.8 L906.3,758.8 L907.3,758.8 L908.3,758.8 L909.3,758.8 L910.3,758.8 L911.3,758.8 L912.3,758.8 L913.3,758.8 L914.3,758.8 L915.3,758.8 L916.3,758.8 L917.3,758.8 L918.3,758.8 L919.3,758.8 L920.3,758.8 L921.3,758.8 L922.3,758.8 L923.3,758.8 L924.3,758.8 L925.3,758.8 L926.3,758.8 L926.3,758.8 L927.3,758.6 L928.3,758.2 L929.3,757.5 L930.3,756.5 L931.3,755.3 L932.3,754.0 L933.3,752.6 L934.3,751.0 L935.3,749.3 L936.3,747.6 L937.3,745.9 L938.0,744.8 L938.3,744.2 L939.3,742.2 L940.3,739.8 L941.3,737.1 L942.3,734.2 L943.3,731.2 L944.3,728.0 L945.3,724.9 L946.3,721.7 L947.3,718.6 L947.7,717.5 L948.3,715.5 L949.3,712.3 L950.3,708.9 L951.3,705.5 L952.3,702.0 L953.3,698.6 L954.3,695.3 L955.3,692.2 L956.3,689.3 L957.3,686.7 L957.5,686.3 L958.3,684.3 L959.3,681.9 L960.3,679.6 L961.3,677.4 L962.3,675.3 L963.3,673.4 L964.3,671.9 L965.3,670.6 L966.3,669.7 L966.3,669.7 L967.3,669.0 L968.3,668.3 L969.3,667.7 L970.3,667.1 L971.3,666.6 L972.3,666.3 L973.3,666.0 L974.3,665.8 L975.0,665.8 L975.3,665.8 L976.3,665.9 L977.3,666.1 L978.3,666.4 L979.3,666.8 L980.3,667.2 L981.3,667.8 L982.3,668.3 L983.4,668.9 L984.4,669.6 L985.4,670.2 L986.4,670.9 L986.7,671.1 L987.4,671.6 L988.4,672.4 L989.4,673.3 L990.4,674.3 L991.4,675.4 L992.4,676.6 L993.4,677.9 L994.4,679.3 L995.4,680.7 L996.4,682.2 L996.5,682.4 L997.4,683.8 L998.4,685.7 L999.4,687.7 L1000.4,689.9 L1001.4,692.3 L1002.4,694.7 L1003.4,697.1 L1004.4,699.5 L1005.4,701.9 L1006.2,703.8 L1006.4,704.1 L1007.4,706.4 L1008.4,708.6 L1009.4,710.8 L1010.4,713.0 L1011.4,715.2 L1012.4,717.5 L1013.4,719.6 L1014.4,721.8 L1015.4,723.9 L1016.0,725.3 L1016.4,726.1 L1017.4,728.2 L1018.4,730.4 L1019.4,732.6 L1020.4,734.8 L1021.4,737.0 L1022.4,739.1 L1023.4,741.1 L1024.4,743.1 L1025.4,744.9 L1026.4,746.7 L1027.4,748.2 L1027.7,748.7 L1028.4,749.6 L1029.4,751.0 L1030.4,752.3 L1031.4,753.6 L1032.4,754.9 L1033.4,756.1 L1034.4,757.3 L1035.4,758.3 L1036.4,759.4 L1037.4,760.3 L1038.4,761.2 L1039.4,762.0 L1040.4,762.7 L1041.3,763.3 L1041.4,763.3 L1042.4,763.9 L1043.4,764.5 L1044.4,765.1 L1045.4,765.6 L1046.4,766.2 L1047.4,766.7 L1048.4,767.2 L1049.4,767.6 L1050.4,768.1 L1051.4,768.5 L1052.4,768.9 L1053.4,769.2 L1054.4,769.5 L1055.4,769.7 L1056.4,769.9 L1057.4,770.0 L1058.4,770.1 L1058.9,770.1 L1059.4,770.1 L1060.4,770.1 L1061.4,770.1 L1062.4,770.1 L1063.4,770.1 L1064.4,770.1 L1065.4,770.1 L1066.4,770.1 L1067.4,770.1 L1068.4,770.1 L1069.4,770.1 L1070.4,770.1 L1071.4,770.1 L1072.4,770.1 L1073.4,770.1 L1074.4,770.1 L1075.4,770.1 L1076.4,770.1 L1077.4,770.1 L1078.4,770.1 L1078.4,770.1 L1079.4,770.0 L1080.4,769.8 L1081.4,769.5 L1082.4,769.0 L1083.4,768.4 L1084.4,767.8 L1085.4,767.0 L1086.4,766.3 L1087.4,765.5 L1088.4,764.6 L1089.4,763.8 L1090.0,763.3 L1090.4,763.0 L1091.4,762.1 L1092.4,761.0 L1093.4,759.9 L1094.4,758.6 L1095.4,757.3 L1096.4,755.9 L1097.4,754.4 L1098.4,752.9 L1099.4,751.4 L1100.4,749.8 L1101.4,748.3 L1102.4,746.7 L1102.4,746.7 L1103.4,745.2 L1104.4,743.4 L1105.4,741.6 L1106.4,739.7 L1107.4,737.8 L1108.4,735.9 L1109.4,734.0 L1110.4,732.2 L1111.4,730.4 L1112.4,728.7 L1113.4,727.2 L1114.0,726.3 L1114.4,725.8 L1115.4,724.4 L1116.4,723.1 L1117.4,721.8 L1118.4,720.6 L1119.4,719.6 L1120.4,718.6 L1121.4,717.8 L1121.9,717.5 L1122.4,717.2 L1123.4,716.6 L1124.4,716.1 L1125.4,715.7 L1126.4,715.5 L1126.8,715.5 L1127.4,715.5 L1128.4,715.8 L1129.4,716.3 L1130.4,716.9 L1131.4,717.6 L1132.4,718.4 L1133.4,719.2 L1133.6,719.4 L1134.4,720.1 L1135.4,721.0 L1136.4,722.1 L1137.4,723.3 L1138.4,724.7 L1139.4,726.1 L1140.4,727.5 L1141.4,729.0 L1142.4,730.6 L1143.4,732.1 L1144.4,733.6 L1145.3,735.0 L1145.4,735.1 L1146.4,736.7 L1147.4,738.3 L1148.4,740.0 L1149.4,741.8 L1150.4,743.5 L1151.4,745.3 L1152.4,747.1 L1153.4,748.8 L1154.4,750.5 L1155.4,752.1 L1156.4,753.6 L1157.0,754.5 L1157.4,755.0 L1158.4,756.4 L1159.4,757.8 L1160.4,759.2 L1161.4,760.6 L1162.4,761.9 L1163.4,763.1 L1164.4,764.3 L1165.4,765.4 L1166.4,766.4 L1167.4,767.3 L1168.4,768.0 L1168.7,768.2 L1169.4,768.6 L1170.4,769.2 L1171.4,769.8 L1172.4,770.3 L1173.4,770.9 L1174.4,771.4 L1175.4,771.8 L1176.4,772.2 L1177.4,772.5 L1178.4,772.7 L1179.4,772.9 L1180.4,773.0 L1180.4,773.0 L1181.4,773.0 L1182.4,773.1 L1183.4,773.1 L1184.4,773.1 L1185.4,773.2 L1186.4,773.2 L1187.4,773.2 L1188.4,773.3 L1189.4,773.3 L1190.4,773.3 L1191.4,773.4 L1192.4,773.4 L1193.4,773.4 L1194.4,773.4 L1195.4,773.4 L1196.4,773.5 L1197.4,773.5 L1198.4,773.5 L1199.4,773.5 L1200.4,773.5 L1201.4,773.5 L1202.4,773.5 L1203.4,773.6 L1204.4,773.6 L1205.4,773.6 L1206.4,773.6 L1207.4,773.6 L1208.4,773.6 L1209.4,773.6 L1210.4,773.6 L1211.4,773.6 L1212.4,773.6 L1213.4,773.6 L1213.5,773.6 L1214.4,773.4 L1215.4,772.8 L1216.4,772.3 L1217.4,772.0 L1217.4,772.0 L1218.4,772.0 L1219.4,772.0 L1220.4,772.0 L1221.4,772.0 L1222.4,772.0 L1223.4,772.0 L1224.4,772.0 L1225.4,771.9 L1226.4,771.9 L1227.4,771.9 L1228.4,771.9 L1229.4,771.9 L1230.4,771.9 L1231.4,771.9 L1232.4,771.9 L1233.4,771.9 L1234.4,771.9 L1235.4,771.9 L1236.4,771.9 L1237.4,771.9 L1238.4,771.9 L1239.4,771.9 L1240.4,771.9 L1241.4,771.9 L1242.4,771.9 L1243.4,771.9 L1244.4,771.9 L1245.4,771.9 L1246.4,771.9 L1247.4,771.9 L1248.4,771.9 L1249.4,771.9" stroke="#000000" stroke-width="5.9"/>
<path d="M185.2,784.6 L186.2,784.6 L187.2,784.6 L188.2,784.6 L189.2,784.6 L190.2,784.6 L191.2,784.6 L192.2,784.6 L193.2,784.6 L194.2,784.6 L195.2,784.6 L196.2,784.6 L197.2,784.6 L198.2,784.6 L199.2,784.6 L200.2,784.6 L201.2,784.6 L202.2,784.6 L203.2,784.6 L204.2,784.6 L205.2,784.6 L206.2,784.6 L207.2,784.6 L208.2,784.6 L209.2,784.6 L210.2,784.6 L211.2,784.6 L212.2,784.6 L213.2,784.6 L214.2,784.6 L215.2,784.6 L216.2,784.6 L217.2,784.6 L218.2,784.6 L219.2,784.6 L220.2,784.6 L221.2,784.6 L222.2,784.6 L223.2,784.6 L224.2,784.6 L225.2,784.6 L226.2,784.6 L227.2,784.6 L228.2,784.6 L229.2,784.6 L230.2,784.6 L231.2,784.6 L232.2,784.6 L233.2,784.6 L234.2,784.6 L235.2,784.6 L236.2,784.6 L237.2,784.6 L238.2,784.6 L239.2,784.6 L240.2,784.6 L241.2,784.6 L242.2,784.6 L243.2,784.6 L244.2,784.6 L245.2,784.6 L246.2,784.6 L247.2,784.6 L248.2,784.6 L249.2,784.6 L250.2,784.6 L251.2,784.6 L252.2,784.6 L253.2,784.6 L254.2,784.6 L255.2,784.6 L256.2,784.6 L257.2,784.6 L258.2,784.6 L259.2,784.6 L260.2,784.6 L261.2,784.6 L262.2,784.6 L263.2,784.6 L264.2,784.6 L265.2,784.6 L266.2,784.6 L267.2,784.6 L268.2,784.6 L269.2,784.6 L270.2,784.6 L271.2,784.6 L272.2,784.6 L273.2,784.6 L274.2,784.6 L275.2,784.6 L276.2,784.6 L277.2,784.6 L278.2,784.6 L279.2,784.6 L280.2,784.6 L281.2,784.6 L282.2,784.6 L283.2,784.6 L284.2,784.6 L285.2,784.6 L286.2,784.6 L287.2,784.6 L288.2,784.6 L289.2,784.6 L290.0,784.6 L290.2,784.6 L291.2,784.6 L292.2,784.6 L293.2,784.6 L294.2,784.5 L295.2,784.5 L296.2,784.5 L297.2,784.4 L298.2,784.4 L299.2,784.3 L300.2,784.2 L301.2,784.2 L302.2,784.1 L303.2,784.1 L304.2,784.0 L305.2,783.9 L306.2,783.9 L307.2,783.8 L308.2,783.7 L309.2,783.7 L310.0,783.6 L310.2,783.6 L311.2,783.5 L312.2,783.5 L313.2,783.4 L314.2,783.3 L315.2,783.2 L316.2,783.2 L317.2,783.1 L318.2,783.0 L319.2,782.9 L320.2,782.8 L321.2,782.7 L322.2,782.6 L323.2,782.5 L324.2,782.4 L325.0,782.3 L325.2,782.3 L326.2,782.1 L327.2,782.0 L328.2,781.8 L329.2,781.6 L330.2,781.4 L331.2,781.2 L332.2,781.0 L333.2,780.8 L334.2,780.5 L335.2,780.3 L336.2,780.0 L337.2,779.7 L338.2,779.4 L339.2,779.1 L339.5,779.0 L340.2,778.8 L341.2,778.4 L342.2,778.0 L343.2,777.6 L344.2,777.1 L345.2,776.7 L346.2,776.2 L347.2,775.6 L348.2,775.1 L349.2,774.5 L350.2,773.9 L351.2,773.3 L352.2,772.7 L353.2,772.1 L354.2,771.4 L355.2,770.7 L356.2,770.1 L357.2,769.4 L358.2,768.7 L359.0,768.2 L359.2,768.0 L360.2,767.3 L361.2,766.6 L362.2,765.8 L363.2,765.0 L364.2,764.2 L365.2,763.3 L366.2,762.4 L367.2,761.5 L368.2,760.6 L369.2,759.7 L370.2,758.7 L371.2,757.8 L372.2,756.8 L373.2,755.8 L374.2,754.9 L375.2,753.9 L376.2,752.9 L377.2,751.9 L378.2,751.0 L378.5,750.7 L379.2,750.0 L380.2,749.0 L381.2,747.9 L382.2,746.9 L383.2,745.8 L384.2,744.7 L385.2,743.6 L386.2,742.5 L387.2,741.4 L388.2,740.3 L389.2,739.2 L390.2,738.1 L391.2,737.0 L392.2,735.9 L393.2,734.8 L394.2,733.8 L395.2,732.8 L396.2,731.8 L397.2,730.9 L398.0,730.2 L398.2,730.0 L399.2,729.1 L400.2,728.3 L401.2,727.4 L402.2,726.6 L403.2,725.8 L404.2,725.0 L405.2,724.2 L406.2,723.5 L407.2,722.7 L408.2,722.0 L409.2,721.3 L410.0,720.7 L410.2,720.5 L411.2,719.8 L412.2,719.1 L413.2,718.4 L414.2,717.7 L415.2,717.0 L416.2,716.4 L417.2,715.8 L417.5,715.6 L418.2,715.1 L419.2,714.5 L420.2,713.9 L421.2,713.3 L422.2,712.6 L423.2,712.0 L424.2,711.4 L425.2,710.9 L426.2,710.4 L427.2,709.9 L428.2,709.5 L429.2,709.1 L429.5,709.0 L430.2,708.8 L431.2,708.4 L432.2,708.1 L433.2,707.8 L434.2,707.4 L435.2,707.1 L436.2,706.8 L437.2,706.5 L438.2,706.3 L439.2,706.0 L440.2,705.7 L441.2,705.5 L442.2,705.3 L443.2,705.1 L444.2,705.0 L445.2,704.8 L446.2,704.7 L447.2,704.7 L448.2,704.6 L449.0,704.6 L449.2,704.6 L450.2,704.6 L451.3,704.6 L452.3,704.6 L453.3,704.6 L454.3,704.6 L455.3,704.6 L456.3,704.6 L457.3,704.6 L458.3,704.6 L459.3,704.6 L460.3,704.6 L461.3,704.6 L462.3,704.6 L463.3,704.6 L463.6,704.6 L464.3,704.6 L465.3,704.7 L466.3,704.9 L467.3,705.1 L468.3,705.4 L469.3,705.7 L470.3,706.0 L471.3,706.4 L472.3,706.8 L473.3,707.2 L474.3,707.6 L475.3,708.0 L476.3,708.3 L477.3,708.7 L478.2,709.0 L478.3,709.0 L479.3,709.3 L480.3,709.7 L481.3,710.0 L482.3,710.3 L483.3,710.7 L484.3,711.0 L485.3,711.4 L486.3,711.7 L487.3,712.0 L488.3,712.3 L489.3,712.6 L490.3,712.9 L491.3,713.1 L492.3,713.3 L492.8,713.4 L493.3,713.5 L494.3,713.6 L495.3,713.8 L496.3,713.9 L497.3,714.1 L498.3,714.2 L499.3,714.4 L500.3,714.5 L501.3,714.6 L502.3,714.7 L503.3,714.8 L504.3,714.9 L505.3,714.9 L506.3,715.0 L507.3,715.0 L507.5,715.0 L508.3,715.0 L509.3,715.0 L510.3,714.9 L511.3,714.8 L512.3,714.7 L513.3,714.6 L514.3,714.5 L515.3,714.3 L515.3,714.3 L516.3,714.0 L517.3,713.4 L518.3,712.5 L519.3,711.5 L520.3,710.3 L521.3,709.1 L522.1,708.0 L522.3,707.8 L523.3,706.2 L524.3,704.2 L525.3,702.1 L526.3,699.9 L527.0,698.3 L527.3,697.7 L528.3,695.6 L529.3,693.4 L530.3,691.2 L531.3,688.9 L532.3,686.6 L533.3,684.4 L534.3,682.2 L535.1,680.4 L535.3,680.0 L536.3,677.9 L537.3,675.9 L538.3,673.8 L539.3,671.8 L540.3,669.8 L541.3,667.8 L542.3,665.8 L542.4,665.5 L543.3,663.7 L544.3,661.5 L545.3,659.5 L546.3,657.7 L546.8,657.0 L547.3,656.4 L548.3,655.3 L549.3,654.1 L550.3,653.0 L551.3,652.0 L552.3,651.1 L553.3,650.4 L554.3,649.8 L555.3,649.4 L556.3,649.2 L556.5,649.2 L557.3,649.3 L558.3,649.5 L559.3,649.9 L560.3,650.4 L561.3,651.0 L562.3,651.7 L563.3,652.5 L564.3,653.3 L565.3,654.2 L566.3,655.1 L566.3,655.1 L567.3,656.1 L568.3,657.3 L569.3,658.7 L570.3,660.3 L571.3,662.1 L572.3,663.9 L573.3,665.8 L574.3,667.7 L575.3,669.7 L576.3,671.6 L577.3,673.4 L578.0,674.6 L578.3,675.1 L579.3,676.7 L580.3,678.4 L581.3,680.1 L582.3,681.8 L583.3,683.5 L584.3,685.2 L585.3,686.9 L586.3,688.5 L587.3,690.2 L588.3,691.8 L589.3,693.4 L589.7,694.1 L590.3,695.0 L591.3,696.6 L592.3,698.2 L593.3,699.7 L594.3,701.3 L595.3,702.8 L596.3,704.4 L597.3,705.9 L598.3,707.3 L599.3,708.7 L600.3,710.1 L601.3,711.4 L601.4,711.6 L602.3,712.7 L603.3,714.0 L604.3,715.3 L605.3,716.5 L606.3,717.7 L607.3,718.9 L608.3,720.1 L609.3,721.3 L610.3,722.4 L611.3,723.5 L612.3,724.6 L613.3,725.6 L614.3,726.6 L615.3,727.6 L616.3,728.5 L617.0,729.2 L617.3,729.5 L618.3,730.4 L619.3,731.2 L620.3,732.1 L621.3,733.0 L622.3,733.8 L623.3,734.7 L624.3,735.5 L625.3,736.3 L626.3,737.0 L627.3,737.7 L628.3,738.4 L629.3,739.1 L630.3,739.7 L631.3,740.2 L632.3,740.7 L632.6,740.9 L633.3,741.2 L634.3,741.7 L635.3,742.1 L636.3,742.6 L637.3,743.0 L638.3,743.4 L639.3,743.8 L640.3,744.2 L641.3,744.5 L642.3,744.9 L643.3,745.2 L644.3,745.6 L645.3,745.9 L646.3,746.2 L647.3,746.5 L648.3,746.8 L649.3,747.1 L650.3,747.3 L651.3,747.6 L652.3,747.8 L653.3,748.1 L654.3,748.3 L655.3,748.5 L656.0,748.7 L656.3,748.8 L657.3,749.0 L658.3,749.2 L659.3,749.4 L660.3,749.6 L661.3,749.8 L662.3,750.0 L663.3,750.2 L664.3,750.3 L665.3,750.5 L666.3,750.7 L667.3,750.9 L668.3,751.0 L669.3,751.2 L670.3,751.4 L671.3,751.5 L672.3,751.7 L673.3,751.9 L674.3,752.0 L675.3,752.2 L676.3,752.3 L677.3,752.5 L678.3,752.6 L679.3,752.7 L680.3,752.9 L681.3,753.0 L682.3,753.1 L683.3,753.2 L684.3,753.4 L685.3,753.5 L686.3,753.6 L687.3,753.7 L688.3,753.8 L689.3,753.9 L690.3,754.0 L691.3,754.1 L692.3,754.2 L693.3,754.3 L694.3,754.4 L695.0,754.5 L695.3,754.5 L696.3,754.6 L697.3,754.7 L698.3,754.8 L699.3,754.9 L700.3,755.0 L701.3,755.1 L702.3,755.2 L703.3,755.3 L704.3,755.4 L705.3,755.4 L706.3,755.5 L707.3,755.6 L708.3,755.7 L709.3,755.8 L710.3,755.9 L711.3,756.0 L712.3,756.1 L713.3,756.1 L714.3,756.2 L715.3,756.3 L716.3,756.4 L717.3,756.4 L718.3,756.5 L719.3,756.6 L720.3,756.7 L721.3,756.7 L722.3,756.8 L723.3,756.8 L724.3,756.9 L725.3,757.0 L726.3,757.0 L727.3,757.0 L728.3,757.1 L729.3,757.1 L730.3,757.2 L731.3,757.2 L732.3,757.2 L733.3,757.2 L734.3,757.3 L735.3,757.3 L736.3,757.3 L737.3,757.3 L738.0,757.3 L738.3,757.3 L739.3,757.3 L740.3,757.2 L741.3,757.1 L742.3,757.0 L743.3,756.9 L744.3,756.7 L745.3,756.6 L746.3,756.4 L747.3,756.2 L748.0,756.0 L748.3,755.9 L749.3,755.5 L750.3,754.9 L751.3,754.1 L752.3,753.2 L753.3,752.2 L754.3,751.1 L755.3,750.0 L756.3,748.8 L757.0,748.0 L757.3,747.6 L758.3,746.4 L759.3,745.1 L760.3,743.5 L761.3,741.6 L761.4,741.4 L762.3,739.2 L763.3,736.1 L764.3,732.5 L765.3,728.3 L766.3,723.6 L767.3,718.6 L768.3,713.2 L769.2,708.2 L769.3,707.6 L770.3,701.1 L771.3,693.6 L772.3,685.2 L773.3,676.1 L774.3,666.4 L775.0,659.5 L775.3,656.1 L776.3,643.9 L776.8,638.0 L777.3,631.9 L778.3,619.6 L779.3,606.7 L780.3,593.9 L781.3,581.3 L782.3,569.4 L783.3,558.4 L784.3,548.9 L785.3,541.1 L785.8,538.0 L786.3,535.1 L787.3,530.0 L788.3,525.6 L789.3,522.0 L790.3,519.0 L790.5,518.5 L791.3,516.5 L792.3,514.0 L793.3,511.9 L794.3,510.4 L795.3,509.7 L795.5,509.7 L796.3,509.9 L797.3,510.8 L798.3,512.1 L799.3,513.6 L800.3,515.3 L801.0,516.5 L801.3,517.0 L802.3,519.1 L803.3,521.5 L804.3,524.2 L805.2,526.5 L805.3,526.8 L806.3,529.5 L807.3,532.3 L808.3,535.2 L809.2,538.0 L809.3,538.4 L810.3,541.6 L811.3,545.0 L812.3,548.6 L813.3,552.5 L814.0,555.5 L814.3,557.0 L815.3,562.1 L816.3,567.9 L817.3,574.1 L818.3,580.7 L819.3,587.5 L820.3,594.5 L820.9,598.5 L821.3,601.5 L822.3,609.0 L823.3,616.8 L824.3,624.8 L825.3,632.7 L826.3,640.0 L826.3,640.1 L827.3,647.1 L828.3,653.8 L828.8,657.0 L829.3,660.6 L830.3,667.8 L831.3,674.7 L832.0,679.0 L832.3,680.9 L833.3,686.7 L834.3,692.3 L835.3,697.7 L836.3,702.8 L837.3,707.5 L838.3,712.0 L839.3,716.0 L839.6,717.0 L840.3,719.6 L841.3,723.2 L842.3,726.7 L843.3,730.1 L844.3,733.3 L845.3,736.4 L846.3,739.2 L847.3,741.8 L848.3,744.2 L849.3,746.3 L850.3,748.1 L851.1,749.2 L851.3,749.5 L852.3,750.8 L853.3,752.0 L854.3,753.2 L855.3,754.2 L856.3,755.3 L857.3,756.2 L858.3,757.1 L859.3,757.9 L860.3,758.6 L861.3,759.2 L862.3,759.8 L863.3,760.3 L864.3,760.8 L864.7,760.9 L865.3,761.1 L866.3,761.5 L867.3,761.7 L868.3,762.0 L869.3,762.3 L870.3,762.5 L871.3,762.7 L872.3,762.9 L873.3,763.1 L874.3,763.3 L875.3,763.5 L876.3,763.7 L877.3,763.9 L878.3,764.1 L879.3,764.3 L879.5,764.3 L880.3,764.5 L881.3,764.7 L882.3,765.0 L883.3,765.3 L884.3,765.5 L885.3,765.8 L886.3,766.1 L887.3,766.4 L888.3,766.7 L889.3,767.0 L890.3,767.2 L891.3,767.5 L892.3,767.7 L893.3,767.9 L894.3,768.1 L895.3,768.3 L896.3,768.4 L897.3,768.6 L898.3,768.6 L899.3,768.7 L900.0,768.7 L900.3,768.7 L901.3,768.7 L902.3,768.7 L903.3,768.7 L904.3,768.7 L905.3,768.7 L906.3,768.7 L907.3,768.7 L908.3,768.7 L909.3,768.6 L910.3,768.6 L911.3,768.6 L912.3,768.6 L913.3,768.6 L914.3,768.6 L915.3,768.5 L916.3,768.5 L917.3,768.5 L918.3,768.5 L919.3,768.4 L920.3,768.4 L921.3,768.4 L922.3,768.3 L923.3,768.3 L924.3,768.3 L925.3,768.2 L926.0,768.2 L926.3,768.2 L927.3,768.1 L928.3,767.9 L929.3,767.6 L930.3,767.3 L931.3,766.9 L932.3,766.5 L933.3,766.0 L934.3,765.4 L935.3,764.9 L936.3,764.3 L937.3,763.7 L938.3,763.1 L939.3,762.4 L940.0,762.0 L940.3,761.8 L941.3,761.0 L942.3,760.1 L943.3,759.1 L944.3,758.0 L945.3,756.9 L946.3,755.8 L947.3,754.7 L948.0,754.0 L948.3,753.6 L949.3,752.6 L950.3,751.5 L951.3,750.4 L952.3,749.3 L953.3,748.2 L954.3,747.1 L955.3,746.0 L956.3,745.0 L957.3,744.0 L957.5,743.8 L958.3,742.9 L959.3,741.9 L960.3,740.8 L961.3,739.7 L962.3,738.6 L963.3,737.7 L964.3,736.9 L965.3,736.3 L966.3,736.0 L966.3,736.0 L967.3,735.8 L968.3,735.6 L969.3,735.4 L970.3,735.3 L971.3,735.1 L972.3,735.1 L973.3,735.0 L974.0,735.0 L974.3,735.0 L975.3,735.1 L976.3,735.3 L977.3,735.5 L978.3,735.8 L979.3,736.2 L980.3,736.6 L981.3,737.1 L982.3,737.6 L983.4,738.1 L984.4,738.7 L985.4,739.2 L986.4,739.7 L986.7,739.9 L987.4,740.2 L988.4,740.8 L989.4,741.5 L990.4,742.2 L991.4,742.9 L992.4,743.7 L993.4,744.5 L994.4,745.3 L995.4,746.2 L996.4,747.1 L997.4,747.9 L998.4,748.8 L999.4,749.7 L1000.4,750.6 L1000.4,750.6 L1001.4,751.4 L1002.4,752.4 L1003.4,753.3 L1004.4,754.3 L1005.4,755.3 L1006.4,756.3 L1007.4,757.4 L1008.4,758.4 L1009.4,759.4 L1010.4,760.4 L1011.4,761.4 L1012.4,762.3 L1013.4,763.2 L1014.4,764.0 L1015.4,764.8 L1016.0,765.3 L1016.4,765.6 L1017.4,766.3 L1018.4,767.0 L1019.4,767.7 L1020.4,768.4 L1021.4,769.1 L1022.4,769.8 L1023.4,770.4 L1024.4,770.9 L1025.4,771.4 L1026.4,771.7 L1027.4,772.0 L1027.7,772.1 L1028.4,772.2 L1029.4,772.4 L1030.4,772.6 L1031.4,772.8 L1032.4,773.0 L1033.4,773.1 L1034.4,773.3 L1035.4,773.4 L1036.4,773.6 L1037.4,773.7 L1038.4,773.9 L1039.4,774.0 L1040.4,774.1 L1041.4,774.2 L1042.4,774.3 L1043.4,774.4 L1044.4,774.5 L1045.4,774.6 L1046.4,774.7 L1047.4,774.8 L1048.4,774.8 L1049.4,774.9 L1050.4,774.9 L1051.4,774.9 L1052.4,775.0 L1053.4,775.0 L1054.4,775.0 L1055.0,775.0 L1055.4,775.0 L1056.4,775.0 L1057.4,775.0 L1058.4,775.0 L1059.4,775.0 L1060.4,775.0 L1061.4,775.0 L1062.4,775.0 L1063.4,775.0 L1064.4,775.0 L1065.4,775.0 L1066.4,775.0 L1067.4,775.0 L1068.4,775.0 L1069.4,775.0 L1070.4,775.0 L1071.4,775.0 L1072.4,775.0 L1073.4,775.0 L1074.4,775.0 L1075.4,775.0 L1076.4,775.0 L1077.4,775.0 L1078.0,775.0 L1078.4,775.0 L1079.4,775.0 L1080.4,774.9 L1081.4,774.8 L1082.4,774.6 L1083.4,774.5 L1084.4,774.3 L1085.4,774.1 L1086.4,773.8 L1087.4,773.6 L1088.4,773.4 L1089.4,773.1 L1090.0,773.0 L1090.4,772.9 L1091.4,772.7 L1092.4,772.4 L1093.4,772.0 L1094.4,771.7 L1095.4,771.3 L1096.4,770.9 L1097.4,770.5 L1098.4,770.1 L1099.4,769.6 L1100.4,769.2 L1101.4,768.7 L1102.4,768.2 L1102.4,768.2 L1103.4,767.7 L1104.4,767.1 L1105.4,766.4 L1106.4,765.6 L1107.4,764.9 L1108.4,764.1 L1109.4,763.3 L1110.4,762.6 L1111.4,761.9 L1112.4,761.3 L1113.4,760.7 L1114.0,760.4 L1114.4,760.2 L1115.4,759.8 L1116.4,759.3 L1117.4,758.9 L1118.4,758.4 L1119.4,758.0 L1120.4,757.6 L1121.4,757.3 L1122.4,757.0 L1123.4,756.8 L1124.4,756.6 L1125.4,756.5 L1125.8,756.5 L1126.4,756.5 L1127.4,756.6 L1128.4,756.9 L1129.4,757.2 L1130.4,757.6 L1131.4,758.1 L1132.4,758.6 L1133.4,759.2 L1134.4,759.8 L1135.4,760.5 L1136.4,761.1 L1137.4,761.8 L1138.4,762.4 L1139.4,763.1 L1140.4,763.7 L1141.4,764.3 L1141.4,764.3 L1142.4,764.9 L1143.4,765.5 L1144.4,766.1 L1145.4,766.8 L1146.4,767.5 L1147.4,768.2 L1148.4,768.9 L1149.4,769.6 L1150.4,770.3 L1151.4,771.0 L1152.4,771.6 L1153.4,772.2 L1154.4,772.8 L1155.4,773.3 L1156.4,773.8 L1157.0,774.0 L1157.4,774.1 L1158.4,774.5 L1159.4,774.9 L1160.4,775.3 L1161.4,775.6 L1162.4,776.0 L1163.4,776.4 L1164.4,776.7 L1165.4,777.0 L1166.4,777.4 L1167.4,777.6 L1168.4,777.9 L1169.4,778.2 L1170.4,778.4 L1171.4,778.6 L1172.4,778.8 L1173.4,778.9 L1174.4,779.1 L1175.4,779.1 L1176.4,779.2 L1176.5,779.2 L1177.4,779.2 L1178.4,779.2 L1179.4,779.3 L1180.4,779.3 L1181.4,779.3 L1182.4,779.3 L1183.4,779.4 L1184.4,779.4 L1185.4,779.4 L1186.4,779.4 L1187.4,779.5 L1188.4,779.5 L1189.4,779.5 L1190.4,779.5 L1191.4,779.5 L1192.4,779.5 L1193.4,779.6 L1194.4,779.6 L1195.4,779.6 L1196.4,779.6 L1197.4,779.6 L1198.4,779.6 L1199.4,779.7 L1200.4,779.7 L1201.4,779.7 L1202.4,779.7 L1203.4,779.7 L1204.4,779.7 L1205.4,779.7 L1206.4,779.8 L1207.4,779.8 L1208.4,779.8 L1209.4,779.8 L1210.4,779.8 L1211.4,779.8 L1212.4,779.8 L1213.4,779.8 L1214.4,779.8 L1215.4,779.9 L1216.4,779.9 L1217.4,779.9 L1218.4,779.9 L1219.4,779.9 L1220.4,779.9 L1221.4,779.9 L1222.4,779.9 L1223.4,779.9 L1224.4,779.9 L1225.4,779.9 L1226.4,779.9 L1227.4,779.9 L1228.4,779.9 L1229.4,780.0 L1230.4,780.0 L1231.4,780.0 L1232.4,780.0 L1233.4,780.0 L1234.4,780.0 L1235.4,780.0 L1236.4,780.0 L1237.4,780.0 L1238.4,780.0 L1239.4,780.0 L1240.4,780.0 L1241.4,780.0 L1242.4,780.0 L1243.4,780.0 L1244.4,780.0 L1245.4,780.0 L1246.4,780.0 L1247.4,780.0 L1248.4,780.0 L1249.4,780.0" stroke="#c6c6c6" stroke-width="5.6"/>
</g>
<g id="labels" font-weight="bold" fill="#0c0c0c" text-anchor="middle">
<text x="800.7" y="107.3" font-size="35">C</text>
<text x="805" y="247.3" font-size="35">B</text>
<text x="805" y="405.3" font-size="35">A</text>
<text x="804.5" y="502" font-size="33">D</text>
<text x="1065.6" y="81.2" font-size="46.4">10% of Tb</text>
</g>
<g id="legend">
<line x1="948.3" y1="353.1" x2="1048.0" y2="353.1" stroke="#555555" stroke-width="5.4" stroke-linecap="round"/>
<text x="1003.2" y="347.9" font-size="36.5" font-weight="bold" fill="#0c0c0c" text-anchor="middle">A</text>
<text x="1061.3" y="367.4" font-size="40" letter-spacing="1.3" fill="#141414">400</text>
<text x="1148.4" y="345.6" font-size="27.5" fill="#3a3a3a">0</text>
<text x="1163.2" y="367.4" font-size="40" fill="#141414">C</text>
<line x1="948.3" y1="416.4" x2="1048.0" y2="416.4" stroke="#8c8c8c" stroke-width="5.4" stroke-linecap="round"/>
<text x="1000" y="412.6" font-size="35.2" font-weight="bold" fill="#0c0c0c" text-anchor="middle">B</text>
<text x="1061.3" y="431.9" font-size="40" letter-spacing="1.3" fill="#141414">450</text>
<text x="1148.4" y="410.1" font-size="27.5" fill="#3a3a3a">0</text>
<text x="1163.2" y="431.9" font-size="40" fill="#141414">C</text>
<line x1="948.3" y1="481.4" x2="1048.0" y2="481.4" stroke="#000000" stroke-width="5.4" stroke-linecap="round"/>
<text x="999.2" y="474.2" font-size="35.2" font-weight="bold" fill="#0c0c0c" text-anchor="middle">C</text>
<text x="1061.3" y="494.2" font-size="40" letter-spacing="1.3" fill="#141414">500</text>
<text x="1148.4" y="472.4" font-size="27.5" fill="#3a3a3a">0</text>
<text x="1163.2" y="494.2" font-size="40" fill="#141414">C</text>
<line x1="948.3" y1="544.4" x2="1048.0" y2="544.4" stroke="#c6c6c6" stroke-width="5.4" stroke-linecap="round"/>
<text x="1000.7" y="539.8" font-size="34.6" font-weight="bold" fill="#0c0c0c" text-anchor="middle">D</text>
<text x="1061.3" y="557.8" font-size="40" letter-spacing="1.3" fill="#141414">550</text>
<text x="1148.4" y="536.0" font-size="27.5" fill="#3a3a3a">0</text>
<text x="1163.2" y="557.8" font-size="40" fill="#141414">C</text>
</g>
</svg>
</body>
</html>
